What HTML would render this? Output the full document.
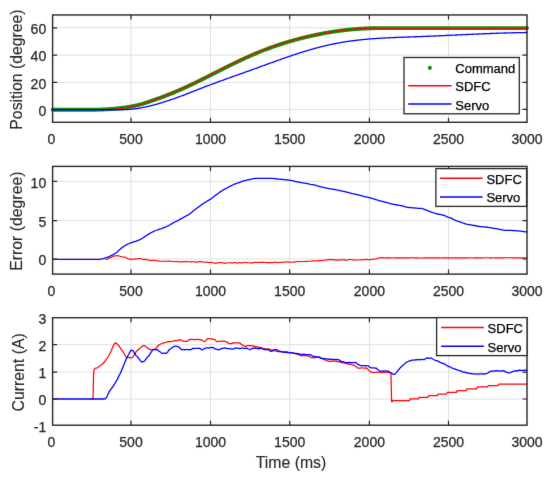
<!DOCTYPE html><html><head><meta charset="utf-8"><title>SDFC vs Servo</title><style>html,body{margin:0;padding:0;background:#fff;}svg{display:block;}</style></head><body>
<svg width="550" height="479" viewBox="0 0 550 479">
<defs><filter id="bl" filterUnits="userSpaceOnUse" x="0" y="0" width="550" height="479" color-interpolation-filters="sRGB"><feConvolveMatrix order="3" kernelMatrix="0.00524 0.06192 0.00524 0.06192 0.73137 0.06192 0.00524 0.06192 0.00524" edgeMode="duplicate" preserveAlpha="false"/></filter></defs>
<style>text{font-family:"Liberation Sans",Arial,sans-serif;} .tk{font-size:14px;fill:#262626;stroke:#262626;stroke-width:0.25px;} .lb{font-size:15.8px;fill:#262626;stroke:#262626;stroke-width:0.25px;} .lg{font-size:13px;fill:#000;stroke:#000;stroke-width:0.25px;}</style>
<style>.lb{stroke-width:0.12px;}</style>
<rect x="0" y="0" width="550" height="479" fill="#fff"/>
<g filter="url(#bl)">
<path d="M131.00,14.95V122.30M210.50,14.95V122.30M289.70,14.95V122.30M369.40,14.95V122.30M448.50,14.95V122.30M52.60,109.45H527.00M52.60,82.40H527.00M52.60,55.10H527.00M52.60,27.80H527.00" stroke="#dfdfdf" stroke-width="1" fill="none"/>
<path d="M131.00,166.40V274.10M210.50,166.40V274.10M289.70,166.40V274.10M369.40,166.40V274.10M448.50,166.40V274.10M52.60,259.00H527.00M52.60,220.60H527.00M52.60,181.40H527.00" stroke="#dfdfdf" stroke-width="1" fill="none"/>
<path d="M131.00,317.70V425.20M210.50,317.70V425.20M289.70,317.70V425.20M369.40,317.70V425.20M448.50,317.70V425.20M52.60,399.00H527.00M52.60,372.10H527.00M52.60,344.70H527.00" stroke="#dfdfdf" stroke-width="1" fill="none"/>
<path d="M131.00,122.30V117.80M131.00,14.95V19.45M210.50,122.30V117.80M210.50,14.95V19.45M289.70,122.30V117.80M289.70,14.95V19.45M369.40,122.30V117.80M369.40,14.95V19.45M448.50,122.30V117.80M448.50,14.95V19.45M52.60,109.45H57.10M527.00,109.45H522.50M52.60,82.40H57.10M527.00,82.40H522.50M52.60,55.10H57.10M527.00,55.10H522.50M52.60,27.80H57.10M527.00,27.80H522.50" stroke="#262626" stroke-width="1.2" fill="none"/>
<g transform="translate(0,0.3)">
<path d="M52.60,109.45 L53.23,109.45 L53.85,109.45 L54.48,109.45 L55.11,109.45 L55.74,109.45 L56.36,109.45 L56.99,109.45 L57.62,109.45 L58.24,109.45 L58.87,109.45 L59.50,109.45 L60.13,109.45 L60.75,109.45 L61.38,109.45 L62.01,109.45 L62.64,109.45 L63.26,109.45 L63.89,109.45 L64.52,109.45 L65.14,109.45 L65.77,109.45 L66.40,109.45 L67.03,109.45 L67.65,109.45 L68.28,109.45 L68.91,109.45 L69.53,109.45 L70.16,109.45 L70.79,109.45 L71.42,109.45 L72.04,109.45 L72.67,109.45 L73.30,109.45 L73.92,109.45 L74.55,109.45 L75.18,109.45 L75.81,109.45 L76.43,109.45 L77.06,109.45 L77.69,109.45 L78.32,109.45 L78.94,109.45 L79.57,109.45 L80.20,109.45 L80.82,109.45 L81.45,109.45 L82.08,109.45 L82.71,109.45 L83.33,109.45 L83.96,109.45 L84.59,109.45 L85.21,109.45 L85.84,109.45 L86.47,109.45 L87.10,109.45 L87.72,109.45 L88.35,109.45 L88.98,109.45 L89.60,109.45 L90.23,109.45 L90.86,109.45 L91.49,109.45 L92.11,109.45 L92.74,109.45 L93.37,109.44 L94.00,109.44 L94.62,109.43 L95.25,109.42 L95.88,109.40 L96.50,109.39 L97.13,109.38 L97.76,109.36 L98.39,109.35 L99.01,109.33 L99.64,109.31 L100.27,109.30 L100.89,109.28 L101.52,109.25 L102.15,109.23 L102.78,109.20 L103.40,109.17 L104.03,109.14 L104.66,109.11 L105.28,109.07 L105.91,109.04 L106.54,109.00 L107.17,108.96 L107.79,108.92 L108.42,108.88 L109.05,108.84 L109.68,108.80 L110.30,108.75 L110.93,108.71 L111.56,108.65 L112.18,108.60 L112.81,108.55 L113.44,108.49 L114.07,108.43 L114.69,108.37 L115.32,108.30 L115.95,108.24 L116.57,108.17 L117.20,108.11 L117.83,108.04 L118.46,107.97 L119.08,107.90 L119.71,107.83 L120.34,107.75 L120.96,107.68 L121.59,107.60 L122.22,107.53 L122.85,107.45 L123.47,107.36 L124.10,107.28 L124.73,107.19 L125.36,107.10 L125.98,107.01 L126.61,106.92 L127.24,106.82 L127.86,106.73 L128.49,106.63 L129.12,106.52 L129.75,106.42 L130.37,106.31 L131.00,106.20 L131.64,106.09 L132.27,105.97 L132.91,105.85 L133.54,105.72 L134.18,105.59 L134.82,105.46 L135.45,105.32 L136.09,105.17 L136.72,105.03 L137.36,104.88 L138.00,104.72 L138.63,104.57 L139.27,104.41 L139.90,104.24 L140.54,104.07 L141.18,103.90 L141.81,103.73 L142.45,103.55 L143.08,103.36 L143.72,103.16 L144.36,102.96 L144.99,102.76 L145.63,102.55 L146.26,102.34 L146.90,102.12 L147.54,101.91 L148.17,101.69 L148.81,101.48 L149.44,101.26 L150.08,101.05 L150.72,100.84 L151.35,100.62 L151.99,100.40 L152.62,100.19 L153.26,99.97 L153.90,99.75 L154.53,99.53 L155.17,99.30 L155.80,99.08 L156.44,98.86 L157.08,98.63 L157.71,98.41 L158.35,98.18 L158.98,97.95 L159.62,97.72 L160.26,97.49 L160.89,97.26 L161.53,97.02 L162.16,96.79 L162.80,96.55 L163.44,96.32 L164.07,96.08 L164.71,95.84 L165.34,95.60 L165.98,95.35 L166.62,95.11 L167.25,94.86 L167.89,94.61 L168.52,94.36 L169.16,94.11 L169.80,93.86 L170.43,93.60 L171.07,93.35 L171.70,93.09 L172.34,92.83 L172.98,92.56 L173.61,92.30 L174.25,92.04 L174.88,91.77 L175.52,91.50 L176.16,91.23 L176.79,90.96 L177.43,90.68 L178.06,90.41 L178.70,90.13 L179.34,89.85 L179.97,89.57 L180.61,89.29 L181.24,89.01 L181.88,88.72 L182.52,88.44 L183.15,88.15 L183.79,87.86 L184.42,87.57 L185.06,87.28 L185.70,86.99 L186.33,86.70 L186.97,86.40 L187.60,86.11 L188.24,85.81 L188.88,85.52 L189.51,85.22 L190.15,84.92 L190.78,84.62 L191.42,84.32 L192.06,84.02 L192.69,83.71 L193.33,83.41 L193.96,83.11 L194.60,82.80 L195.24,82.50 L195.87,82.19 L196.51,81.88 L197.14,81.57 L197.78,81.25 L198.42,80.94 L199.05,80.63 L199.69,80.31 L200.32,80.00 L200.96,79.69 L201.60,79.37 L202.23,79.05 L202.87,78.74 L203.50,78.42 L204.14,78.10 L204.78,77.79 L205.41,77.47 L206.05,77.15 L206.68,76.83 L207.32,76.51 L207.96,76.19 L208.59,75.87 L209.23,75.55 L209.86,75.23 L210.50,74.91 L211.13,74.59 L211.77,74.27 L212.40,73.95 L213.03,73.63 L213.67,73.31 L214.30,72.99 L214.94,72.67 L215.57,72.35 L216.20,72.03 L216.84,71.71 L217.47,71.39 L218.10,71.07 L218.74,70.75 L219.37,70.43 L220.00,70.11 L220.64,69.79 L221.27,69.47 L221.90,69.15 L222.54,68.83 L223.17,68.51 L223.81,68.19 L224.44,67.88 L225.07,67.56 L225.71,67.24 L226.34,66.93 L226.97,66.61 L227.61,66.29 L228.24,65.98 L228.87,65.67 L229.51,65.35 L230.14,65.04 L230.78,64.73 L231.41,64.41 L232.04,64.10 L232.68,63.79 L233.31,63.48 L233.94,63.17 L234.58,62.87 L235.21,62.56 L235.84,62.25 L236.48,61.95 L237.11,61.64 L237.74,61.34 L238.38,61.04 L239.01,60.73 L239.65,60.43 L240.28,60.13 L240.91,59.83 L241.55,59.54 L242.18,59.24 L242.81,58.94 L243.45,58.65 L244.08,58.36 L244.71,58.06 L245.35,57.77 L245.98,57.48 L246.62,57.20 L247.25,56.91 L247.88,56.62 L248.52,56.34 L249.15,56.06 L249.78,55.77 L250.42,55.49 L251.05,55.22 L251.68,54.94 L252.32,54.66 L252.95,54.39 L253.58,54.12 L254.22,53.84 L254.85,53.58 L255.49,53.31 L256.12,53.04 L256.75,52.78 L257.39,52.51 L258.02,52.25 L258.65,51.99 L259.29,51.73 L259.92,51.48 L260.55,51.22 L261.19,50.97 L261.82,50.72 L262.46,50.47 L263.09,50.22 L263.72,49.97 L264.36,49.73 L264.99,49.48 L265.62,49.24 L266.26,49.00 L266.89,48.76 L267.52,48.52 L268.16,48.29 L268.79,48.05 L269.42,47.82 L270.06,47.59 L270.69,47.36 L271.33,47.13 L271.96,46.90 L272.59,46.68 L273.23,46.45 L273.86,46.23 L274.49,46.01 L275.13,45.79 L275.76,45.57 L276.39,45.35 L277.03,45.14 L277.66,44.93 L278.30,44.71 L278.93,44.50 L279.56,44.29 L280.20,44.08 L280.83,43.88 L281.46,43.67 L282.10,43.47 L282.73,43.27 L283.36,43.07 L284.00,42.87 L284.63,42.67 L285.26,42.47 L285.90,42.28 L286.53,42.08 L287.17,41.89 L287.80,41.70 L288.43,41.51 L289.07,41.32 L289.70,41.14 L290.34,40.95 L290.98,40.77 L291.61,40.59 L292.25,40.40 L292.89,40.22 L293.53,40.05 L294.16,39.87 L294.80,39.69 L295.44,39.52 L296.08,39.34 L296.71,39.17 L297.35,39.00 L297.99,38.83 L298.63,38.66 L299.26,38.50 L299.90,38.33 L300.54,38.17 L301.18,38.01 L301.81,37.84 L302.45,37.68 L303.09,37.53 L303.73,37.37 L304.36,37.21 L305.00,37.06 L305.64,36.90 L306.28,36.75 L306.92,36.60 L307.55,36.45 L308.19,36.30 L308.83,36.15 L309.47,36.01 L310.10,35.86 L310.74,35.72 L311.38,35.57 L312.02,35.43 L312.65,35.29 L313.29,35.15 L313.93,35.01 L314.57,34.88 L315.20,34.74 L315.84,34.61 L316.48,34.48 L317.12,34.34 L317.75,34.21 L318.39,34.08 L319.03,33.95 L319.67,33.83 L320.30,33.70 L320.94,33.58 L321.58,33.45 L322.22,33.33 L322.86,33.21 L323.49,33.09 L324.13,32.97 L324.77,32.86 L325.41,32.74 L326.04,32.62 L326.68,32.51 L327.32,32.40 L327.96,32.29 L328.59,32.18 L329.23,32.07 L329.87,31.96 L330.51,31.86 L331.14,31.75 L331.78,31.65 L332.42,31.55 L333.06,31.45 L333.69,31.35 L334.33,31.25 L334.97,31.15 L335.61,31.06 L336.24,30.97 L336.88,30.87 L337.52,30.78 L338.16,30.69 L338.80,30.60 L339.43,30.52 L340.07,30.43 L340.71,30.35 L341.35,30.26 L341.98,30.18 L342.62,30.10 L343.26,30.02 L343.90,29.94 L344.53,29.87 L345.17,29.79 L345.81,29.72 L346.45,29.65 L347.08,29.58 L347.72,29.51 L348.36,29.44 L349.00,29.37 L349.63,29.31 L350.27,29.25 L350.91,29.18 L351.55,29.12 L352.18,29.06 L352.82,29.01 L353.46,28.95 L354.10,28.89 L354.74,28.84 L355.37,28.79 L356.01,28.74 L356.65,28.69 L357.29,28.64 L357.92,28.60 L358.56,28.55 L359.20,28.51 L359.84,28.47 L360.47,28.43 L361.11,28.39 L361.75,28.35 L362.39,28.32 L363.02,28.28 L363.66,28.25 L364.30,28.22 L364.94,28.19 L365.57,28.16 L366.21,28.13 L366.85,28.10 L367.49,28.08 L368.12,28.05 L368.76,28.03 L369.40,28.01 L370.03,27.99 L370.67,27.97 L371.30,27.95 L371.93,27.93 L372.56,27.91 L373.20,27.90 L373.83,27.88 L374.46,27.87 L375.10,27.85 L375.73,27.84 L376.36,27.83 L376.99,27.82 L377.63,27.80 L378.26,27.80 L378.89,27.80 L379.52,27.80 L380.16,27.80 L380.79,27.80 L381.42,27.80 L382.06,27.80 L382.69,27.80 L383.32,27.80 L383.95,27.80 L384.59,27.80 L385.22,27.80 L385.85,27.80 L386.49,27.80 L387.12,27.80 L387.75,27.80 L388.38,27.80 L389.02,27.80 L389.65,27.80 L390.28,27.80 L390.92,27.80 L391.55,27.80 L392.18,27.80 L392.81,27.80 L393.45,27.80 L394.08,27.80 L394.71,27.80 L395.34,27.80 L395.98,27.80 L396.61,27.80 L397.24,27.80 L397.88,27.80 L398.51,27.80 L399.14,27.80 L399.77,27.80 L400.41,27.80 L401.04,27.80 L401.67,27.80 L402.31,27.80 L402.94,27.80 L403.57,27.80 L404.20,27.80 L404.84,27.80 L405.47,27.80 L406.10,27.80 L406.74,27.80 L407.37,27.80 L408.00,27.80 L408.63,27.80 L409.27,27.80 L409.90,27.80 L410.53,27.80 L411.16,27.80 L411.80,27.80 L412.43,27.80 L413.06,27.80 L413.70,27.80 L414.33,27.80 L414.96,27.80 L415.59,27.80 L416.23,27.80 L416.86,27.80 L417.49,27.80 L418.13,27.80 L418.76,27.80 L419.39,27.80 L420.02,27.80 L420.66,27.80 L421.29,27.80 L421.92,27.80 L422.56,27.80 L423.19,27.80 L423.82,27.80 L424.45,27.80 L425.09,27.80 L425.72,27.80 L426.35,27.80 L426.98,27.80 L427.62,27.80 L428.25,27.80 L428.88,27.80 L429.52,27.80 L430.15,27.80 L430.78,27.80 L431.41,27.80 L432.05,27.80 L432.68,27.80 L433.31,27.80 L433.95,27.80 L434.58,27.80 L435.21,27.80 L435.84,27.80 L436.48,27.80 L437.11,27.80 L437.74,27.80 L438.38,27.80 L439.01,27.80 L439.64,27.80 L440.27,27.80 L440.91,27.80 L441.54,27.80 L442.17,27.80 L442.80,27.80 L443.44,27.80 L444.07,27.80 L444.70,27.80 L445.34,27.80 L445.97,27.80 L446.60,27.80 L447.23,27.80 L447.87,27.80 L448.50,27.80 L449.13,27.80 L449.76,27.80 L450.38,27.80 L451.01,27.80 L451.64,27.80 L452.27,27.80 L452.90,27.80 L453.52,27.80 L454.15,27.80 L454.78,27.80 L455.41,27.80 L456.04,27.80 L456.66,27.80 L457.29,27.80 L457.92,27.80 L458.55,27.80 L459.18,27.80 L459.80,27.80 L460.43,27.80 L461.06,27.80 L461.69,27.80 L462.32,27.80 L462.94,27.80 L463.57,27.80 L464.20,27.80 L464.83,27.80 L465.46,27.80 L466.08,27.80 L466.71,27.80 L467.34,27.80 L467.97,27.80 L468.60,27.80 L469.22,27.80 L469.85,27.80 L470.48,27.80 L471.11,27.80 L471.74,27.80 L472.36,27.80 L472.99,27.80 L473.62,27.80 L474.25,27.80 L474.88,27.80 L475.50,27.80 L476.13,27.80 L476.76,27.80 L477.39,27.80 L478.02,27.80 L478.64,27.80 L479.27,27.80 L479.90,27.80 L480.53,27.80 L481.16,27.80 L481.78,27.80 L482.41,27.80 L483.04,27.80 L483.67,27.80 L484.30,27.80 L484.92,27.80 L485.55,27.80 L486.18,27.80 L486.81,27.80 L487.44,27.80 L488.06,27.80 L488.69,27.80 L489.32,27.80 L489.95,27.80 L490.58,27.80 L491.20,27.80 L491.83,27.80 L492.46,27.80 L493.09,27.80 L493.72,27.80 L494.34,27.80 L494.97,27.80 L495.60,27.80 L496.23,27.80 L496.86,27.80 L497.48,27.80 L498.11,27.80 L498.74,27.80 L499.37,27.80 L500.00,27.80 L500.62,27.80 L501.25,27.80 L501.88,27.80 L502.51,27.80 L503.14,27.80 L503.76,27.80 L504.39,27.80 L505.02,27.80 L505.65,27.80 L506.28,27.80 L506.90,27.80 L507.53,27.80 L508.16,27.80 L508.79,27.80 L509.42,27.80 L510.04,27.80 L510.67,27.80 L511.30,27.80 L511.93,27.80 L512.56,27.80 L513.18,27.80 L513.81,27.80 L514.44,27.80 L515.07,27.80 L515.70,27.80 L516.32,27.80 L516.95,27.80 L517.58,27.80 L518.21,27.80 L518.84,27.80 L519.46,27.80 L520.09,27.80 L520.72,27.80 L521.35,27.80 L521.98,27.80 L522.60,27.80 L523.23,27.80 L523.86,27.80 L524.49,27.80 L525.12,27.80 L525.74,27.80 L526.37,27.80 L527.00,27.80" stroke="#0a960a" stroke-width="3.9" fill="none" stroke-linejoin="round" stroke-linecap="round" />
<path d="M99.64,109.31 L100.27,109.30 L100.89,109.28 L101.52,109.25 L102.15,109.23 L102.78,109.20 L103.40,109.17 L104.03,109.14 L104.66,109.11 L105.28,109.07 L105.91,109.04 L106.54,109.01 L107.17,109.01 L107.79,109.01 L108.42,109.03 L109.05,109.05 L109.68,109.06 L110.30,109.07 L110.93,109.06 L111.56,109.06 L112.18,109.05 L112.81,109.05 L113.44,109.03 L114.07,109.01 L114.69,108.97 L115.32,108.91 L115.95,108.85 L116.57,108.78 L117.20,108.70 L117.83,108.62 L118.46,108.54 L119.08,108.45 L119.71,108.37 L120.34,108.28 L120.96,108.18 L121.59,108.09 L122.22,107.99 L122.85,107.89 L123.47,107.78 L124.10,107.66 L124.73,107.54 L125.36,107.42 L125.98,107.30 L126.61,107.17 L127.24,107.04 L127.86,106.90 L128.49,106.76 L129.12,106.62 L129.75,106.48 L130.37,106.34 L131.00,106.21 L131.64,106.09 L132.27,105.97 L132.91,105.86 L133.54,105.74 L134.18,105.62 L134.82,105.50 L135.45,105.38 L136.09,105.25 L136.72,105.12 L137.36,104.98 L138.00,104.84 L138.63,104.69 L139.27,104.54 L139.90,104.38 L140.54,104.21 L141.18,104.03 L141.81,103.84 L142.45,103.65 L143.08,103.44 L143.72,103.22 L144.36,103.00 L144.99,102.78 L145.63,102.55 L146.26,102.31 L146.90,102.08 L147.54,101.85 L148.17,101.62 L148.81,101.40 L149.44,101.17 L150.08,100.94 L150.72,100.72 L151.35,100.49 L151.99,100.26 L152.62,100.03 L153.26,99.80 L153.90,99.57 L154.53,99.34 L155.17,99.10 L155.80,98.87 L156.44,98.63 L157.08,98.40 L157.71,98.16 L158.35,97.92 L158.98,97.69 L159.62,97.45 L160.26,97.21 L160.89,96.97 L161.53,96.73 L162.16,96.49 L162.80,96.24 L163.44,96.00 L164.07,95.76 L164.71,95.51 L165.34,95.26 L165.98,95.02 L166.62,94.77 L167.25,94.51 L167.89,94.26 L168.52,94.01 L169.16,93.75 L169.80,93.49 L170.43,93.23 L171.07,92.97 L171.70,92.71 L172.34,92.44 L172.98,92.18 L173.61,91.91 L174.25,91.64 L174.88,91.37 L175.52,91.10 L176.16,90.83 L176.79,90.55 L177.43,90.28 L178.06,90.00 L178.70,89.72 L179.34,89.44 L179.97,89.16 L180.61,88.88 L181.24,88.60 L181.88,88.32 L182.52,88.03 L183.15,87.74 L183.79,87.46 L184.42,87.17 L185.06,86.88 L185.70,86.58 L186.33,86.29 L186.97,86.00 L187.60,85.70 L188.24,85.41 L188.88,85.11 L189.51,84.81 L190.15,84.51 L190.78,84.21 L191.42,83.91 L192.06,83.61 L192.69,83.31 L193.33,83.00 L193.96,82.70 L194.60,82.40 L195.24,82.09 L195.87,81.78 L196.51,81.47 L197.14,81.16 L197.78,80.84 L198.42,80.53 L199.05,80.22 L199.69,79.90 L200.32,79.59 L200.96,79.27 L201.60,78.96 L202.23,78.64 L202.87,78.31 L203.50,77.99 L204.14,77.67 L204.78,77.34 L205.41,77.01 L206.05,76.68 L206.68,76.35 L207.32,76.02 L207.96,75.69 L208.59,75.36 L209.23,75.03 L209.86,74.70 L210.50,74.37 L211.13,74.04 L211.77,73.71 L212.40,73.38 L213.03,73.05 L213.67,72.72 L214.30,72.39 L214.94,72.07 L215.57,71.74 L216.20,71.42 L216.84,71.09 L217.47,70.77 L218.10,70.45 L218.74,70.13 L219.37,69.81 L220.00,69.49 L220.64,69.17 L221.27,68.85 L221.90,68.54 L222.54,68.22 L223.17,67.90 L223.81,67.58 L224.44,67.26 L225.07,66.95 L225.71,66.63 L226.34,66.31 L226.97,66.00 L227.61,65.68 L228.24,65.37 L228.87,65.06 L229.51,64.74 L230.14,64.43 L230.78,64.12 L231.41,63.81 L232.04,63.50 L232.68,63.19 L233.31,62.88 L233.94,62.57 L234.58,62.26 L235.21,61.95 L235.84,61.65 L236.48,61.34 L237.11,61.04 L237.74,60.74 L238.38,60.43 L239.01,60.13 L239.65,59.83 L240.28,59.53 L240.91,59.24 L241.55,58.94 L242.18,58.64 L242.81,58.35 L243.45,58.05 L244.08,57.76 L244.71,57.47 L245.35,57.18 L245.98,56.89 L246.62,56.60 L247.25,56.32 L247.88,56.03 L248.52,55.75 L249.15,55.47 L249.78,55.19 L250.42,54.91 L251.05,54.63 L251.68,54.35 L252.32,54.08 L252.95,53.81 L253.58,53.54 L254.22,53.27 L254.85,53.00 L255.49,52.73 L256.12,52.46 L256.75,52.20 L257.39,51.94 L258.02,51.68 L258.65,51.42 L259.29,51.16 L259.92,50.91 L260.55,50.65 L261.19,50.40 L261.82,50.15 L262.46,49.90 L263.09,49.66 L263.72,49.41 L264.36,49.17 L264.99,48.92 L265.62,48.68 L266.26,48.44 L266.89,48.21 L267.52,47.97 L268.16,47.74 L268.79,47.50 L269.42,47.27 L270.06,47.04 L270.69,46.82 L271.33,46.59 L271.96,46.36 L272.59,46.14 L273.23,45.92 L273.86,45.70 L274.49,45.48 L275.13,45.26 L275.76,45.05 L276.39,44.83 L277.03,44.62 L277.66,44.41 L278.30,44.20 L278.93,43.99 L279.56,43.79 L280.20,43.58 L280.83,43.38 L281.46,43.17 L282.10,42.97 L282.73,42.77 L283.36,42.58 L284.00,42.38 L284.63,42.19 L285.26,41.99 L285.90,41.80 L286.53,41.61 L287.17,41.42 L287.80,41.23 L288.43,41.05 L289.07,40.86 L289.70,40.68 L290.34,40.50 L290.98,40.31 L291.61,40.14 L292.25,39.96 L292.89,39.78 L293.53,39.61 L294.16,39.43 L294.80,39.26 L295.44,39.09 L296.08,38.92 L296.71,38.75 L297.35,38.58 L297.99,38.42 L298.63,38.25 L299.26,38.09 L299.90,37.93 L300.54,37.77 L301.18,37.61 L301.81,37.45 L302.45,37.30 L303.09,37.14 L303.73,36.99 L304.36,36.84 L305.00,36.69 L305.64,36.54 L306.28,36.39 L306.92,36.25 L307.55,36.10 L308.19,35.96 L308.83,35.82 L309.47,35.68 L310.10,35.54 L310.74,35.40 L311.38,35.27 L312.02,35.13 L312.65,35.00 L313.29,34.87 L313.93,34.74 L314.57,34.61 L315.20,34.48 L315.84,34.35 L316.48,34.23 L317.12,34.10 L317.75,33.98 L318.39,33.86 L319.03,33.73 L319.67,33.61 L320.30,33.50 L320.94,33.38 L321.58,33.26 L322.22,33.15 L322.86,33.03 L323.49,32.92 L324.13,32.81 L324.77,32.70 L325.41,32.59 L326.04,32.48 L326.68,32.37 L327.32,32.26 L327.96,32.16 L328.59,32.06 L329.23,31.95 L329.87,31.85 L330.51,31.75 L331.14,31.65 L331.78,31.55 L332.42,31.45 L333.06,31.36 L333.69,31.26 L334.33,31.17 L334.97,31.07 L335.61,30.98 L336.24,30.89 L336.88,30.80 L337.52,30.71 L338.16,30.62 L338.80,30.53 L339.43,30.45 L340.07,30.36 L340.71,30.28 L341.35,30.19 L341.98,30.11 L342.62,30.03 L343.26,29.95 L343.90,29.88 L344.53,29.80 L345.17,29.72 L345.81,29.65 L346.45,29.58 L347.08,29.51 L347.72,29.44 L348.36,29.37 L349.00,29.31 L349.63,29.24 L350.27,29.18 L350.91,29.11 L351.55,29.05 L352.18,28.99 L352.82,28.94 L353.46,28.88 L354.10,28.83 L354.74,28.77 L355.37,28.72 L356.01,28.67 L356.65,28.62 L357.29,28.57 L357.92,28.53 L358.56,28.48 L359.20,28.44 L359.84,28.40 L360.47,28.36 L361.11,28.32 L361.75,28.28 L362.39,28.25 L363.02,28.21 L363.66,28.18 L364.30,28.15 L364.94,28.12 L365.57,28.09 L366.21,28.06 L366.85,28.03 L367.49,28.01 L368.12,27.98 L368.76,27.96 L369.40,27.94 L370.03,27.93 L370.67,27.91 L371.30,27.91 L371.93,27.90 L372.56,27.90 L373.20,27.90 L373.83,27.90 L374.46,27.90 L375.10,27.91 L375.73,27.91 L376.36,27.92 L376.99,27.93 L377.63,27.95 L378.26,27.98 L378.89,28.01 L379.52,28.04 L380.16,28.06 L380.79,28.07 L381.42,28.07 L382.06,28.07 L382.69,28.07 L383.32,28.07 L383.95,28.07 L384.59,28.07 L385.22,28.07 L385.85,28.07 L386.49,28.07 L387.12,28.07 L387.75,28.07 L388.38,28.07 L389.02,28.07 L389.65,28.07 L390.28,28.07 L390.92,28.07 L391.55,28.07 L392.18,28.07 L392.81,28.07 L393.45,28.07 L394.08,28.07 L394.71,28.07 L395.34,28.07 L395.98,28.07 L396.61,28.07 L397.24,28.07 L397.88,28.07 L398.51,28.07 L399.14,28.07 L399.77,28.07 L400.41,28.07 L401.04,28.07 L401.67,28.07 L402.31,28.07 L402.94,28.07 L403.57,28.07 L404.20,28.07 L404.84,28.07 L405.47,28.07 L406.10,28.07 L406.74,28.07 L407.37,28.07 L408.00,28.07 L408.63,28.07 L409.27,28.07 L409.90,28.07 L410.53,28.07 L411.16,28.07 L411.80,28.07 L412.43,28.07 L413.06,28.07 L413.70,28.07 L414.33,28.07 L414.96,28.07 L415.59,28.07 L416.23,28.07 L416.86,28.07 L417.49,28.07 L418.13,28.07 L418.76,28.07 L419.39,28.07 L420.02,28.07 L420.66,28.07 L421.29,28.07 L421.92,28.07 L422.56,28.07 L423.19,28.07 L423.82,28.07 L424.45,28.07 L425.09,28.07 L425.72,28.07 L426.35,28.07 L426.98,28.07 L427.62,28.07 L428.25,28.07 L428.88,28.07 L429.52,28.07 L430.15,28.07 L430.78,28.07 L431.41,28.07 L432.05,28.07 L432.68,28.07 L433.31,28.07 L433.95,28.07 L434.58,28.07 L435.21,28.07 L435.84,28.07 L436.48,28.07 L437.11,28.07 L437.74,28.07 L438.38,28.07 L439.01,28.07 L439.64,28.07 L440.27,28.07 L440.91,28.07 L441.54,28.07 L442.17,28.07 L442.80,28.07 L443.44,28.07 L444.07,28.07 L444.70,28.07 L445.34,28.07 L445.97,28.07 L446.60,28.07 L447.23,28.07 L447.87,28.07 L448.50,28.07 L449.13,28.07 L449.76,28.07 L450.38,28.07 L451.01,28.07 L451.64,28.07 L452.27,28.07 L452.90,28.07 L453.52,28.07 L454.15,28.07 L454.78,28.07 L455.41,28.07 L456.04,28.07 L456.66,28.07 L457.29,28.07 L457.92,28.07 L458.55,28.07 L459.18,28.07 L459.80,28.07 L460.43,28.07 L461.06,28.07 L461.69,28.07 L462.32,28.07 L462.94,28.07 L463.57,28.07 L464.20,28.07 L464.83,28.07 L465.46,28.07 L466.08,28.07 L466.71,28.07 L467.34,28.07 L467.97,28.07 L468.60,28.07 L469.22,28.07 L469.85,28.07 L470.48,28.07 L471.11,28.07 L471.74,28.07 L472.36,28.07 L472.99,28.07 L473.62,28.07 L474.25,28.07 L474.88,28.07 L475.50,28.07 L476.13,28.07 L476.76,28.07 L477.39,28.07 L478.02,28.07 L478.64,28.07 L479.27,28.07 L479.90,28.07 L480.53,28.07 L481.16,28.07 L481.78,28.07 L482.41,28.07 L483.04,28.07 L483.67,28.07 L484.30,28.07 L484.92,28.07 L485.55,28.07 L486.18,28.07 L486.81,28.07 L487.44,28.07 L488.06,28.07 L488.69,28.07 L489.32,28.07 L489.95,28.07 L490.58,28.07 L491.20,28.07 L491.83,28.07 L492.46,28.07 L493.09,28.07 L493.72,28.07 L494.34,28.07 L494.97,28.07 L495.60,28.07 L496.23,28.07 L496.86,28.07 L497.48,28.07 L498.11,28.07 L498.74,28.07 L499.37,28.07 L500.00,28.07 L500.62,28.07 L501.25,28.07 L501.88,28.07 L502.51,28.07 L503.14,28.07 L503.76,28.07 L504.39,28.07 L505.02,28.07 L505.65,28.07 L506.28,28.07 L506.90,28.07 L507.53,28.07 L508.16,28.07 L508.79,28.07 L509.42,28.07 L510.04,28.07 L510.67,28.07 L511.30,28.07 L511.93,28.07 L512.56,28.07 L513.18,28.07 L513.81,28.07 L514.44,28.07 L515.07,28.07 L515.70,28.07 L516.32,28.07 L516.95,28.07 L517.58,28.07 L518.21,28.07 L518.84,28.07 L519.46,28.07 L520.09,28.07 L520.72,28.07 L521.35,28.07 L521.98,28.07 L522.60,28.07 L523.23,28.07 L523.86,28.07 L524.49,28.07 L525.12,28.07 L525.74,28.07 L526.37,28.07 L527.00,28.07" stroke="#e81000" stroke-width="1.3" fill="none" stroke-linejoin="round" stroke-linecap="round" />
<path d="M52.60,109.45 L53.23,109.45 L53.85,109.45 L54.48,109.45 L55.11,109.45 L55.74,109.45 L56.36,109.45 L56.99,109.45 L57.62,109.45 L58.24,109.45 L58.87,109.45 L59.50,109.45 L60.13,109.45 L60.75,109.45 L61.38,109.45 L62.01,109.45 L62.64,109.45 L63.26,109.45 L63.89,109.45 L64.52,109.45 L65.14,109.45 L65.77,109.45 L66.40,109.45 L67.03,109.45 L67.65,109.45 L68.28,109.45 L68.91,109.45 L69.53,109.45 L70.16,109.45 L70.79,109.45 L71.42,109.45 L72.04,109.45 L72.67,109.45 L73.30,109.45 L73.92,109.45 L74.55,109.45 L75.18,109.45 L75.81,109.45 L76.43,109.45 L77.06,109.45 L77.69,109.45 L78.32,109.45 L78.94,109.45 L79.57,109.45 L80.20,109.45 L80.82,109.45 L81.45,109.45 L82.08,109.45 L82.71,109.45 L83.33,109.45 L83.96,109.45 L84.59,109.45 L85.21,109.45 L85.84,109.45 L86.47,109.45 L87.10,109.45 L87.72,109.45 L88.35,109.45 L88.98,109.45 L89.60,109.45 L90.23,109.45 L90.86,109.45 L91.49,109.45 L92.11,109.45 L92.74,109.45 L93.37,109.45 L94.00,109.45 L94.62,109.45 L95.25,109.45 L95.88,109.45 L96.50,109.45 L97.13,109.45 L97.76,109.45 L98.39,109.45 L99.01,109.45 L99.64,109.45 L100.27,109.45 L100.89,109.45 L101.52,109.45 L102.15,109.45 L102.78,109.45 L103.40,109.45 L104.03,109.45 L104.66,109.45 L105.28,109.45 L105.91,109.45 L106.54,109.45 L107.17,109.45 L107.79,109.45 L108.42,109.45 L109.05,109.45 L109.68,109.45 L110.30,109.45 L110.93,109.45 L111.56,109.45 L112.18,109.45 L112.81,109.45 L113.44,109.45 L114.07,109.45 L114.69,109.45 L115.32,109.45 L115.95,109.45 L116.57,109.45 L117.20,109.45 L117.83,109.45 L118.46,109.45 L119.08,109.45 L119.71,109.45 L120.34,109.45 L120.96,109.45 L121.59,109.45 L122.22,109.45 L122.85,109.44 L123.47,109.41 L124.10,109.39 L124.73,109.36 L125.36,109.33 L125.98,109.30 L126.61,109.27 L127.24,109.23 L127.86,109.19 L128.49,109.14 L129.12,109.09 L129.75,109.04 L130.37,108.99 L131.00,108.93 L131.64,108.87 L132.27,108.80 L132.91,108.73 L133.54,108.66 L134.18,108.58 L134.82,108.50 L135.45,108.42 L136.09,108.33 L136.72,108.24 L137.36,108.15 L138.00,108.05 L138.63,107.95 L139.27,107.85 L139.90,107.74 L140.54,107.63 L141.18,107.52 L141.81,107.40 L142.45,107.28 L143.08,107.16 L143.72,107.04 L144.36,106.91 L144.99,106.78 L145.63,106.65 L146.26,106.51 L146.90,106.37 L147.54,106.23 L148.17,106.09 L148.81,105.94 L149.44,105.79 L150.08,105.64 L150.72,105.48 L151.35,105.32 L151.99,105.16 L152.62,105.00 L153.26,104.84 L153.90,104.67 L154.53,104.50 L155.17,104.33 L155.80,104.15 L156.44,103.98 L157.08,103.80 L157.71,103.62 L158.35,103.43 L158.98,103.25 L159.62,103.06 L160.26,102.87 L160.89,102.68 L161.53,102.49 L162.16,102.29 L162.80,102.09 L163.44,101.89 L164.07,101.69 L164.71,101.49 L165.34,101.29 L165.98,101.08 L166.62,100.87 L167.25,100.66 L167.89,100.45 L168.52,100.24 L169.16,100.02 L169.80,99.81 L170.43,99.59 L171.07,99.37 L171.70,99.15 L172.34,98.93 L172.98,98.71 L173.61,98.48 L174.25,98.26 L174.88,98.03 L175.52,97.80 L176.16,97.57 L176.79,97.34 L177.43,97.11 L178.06,96.88 L178.70,96.65 L179.34,96.41 L179.97,96.18 L180.61,95.94 L181.24,95.70 L181.88,95.47 L182.52,95.23 L183.15,94.99 L183.79,94.75 L184.42,94.51 L185.06,94.27 L185.70,94.02 L186.33,93.78 L186.97,93.54 L187.60,93.29 L188.24,93.05 L188.88,92.80 L189.51,92.56 L190.15,92.31 L190.78,92.07 L191.42,91.82 L192.06,91.57 L192.69,91.33 L193.33,91.08 L193.96,90.83 L194.60,90.58 L195.24,90.34 L195.87,90.09 L196.51,89.84 L197.14,89.59 L197.78,89.34 L198.42,89.10 L199.05,88.85 L199.69,88.60 L200.32,88.35 L200.96,88.11 L201.60,87.86 L202.23,87.61 L202.87,87.37 L203.50,87.12 L204.14,86.88 L204.78,86.63 L205.41,86.39 L206.05,86.14 L206.68,85.90 L207.32,85.66 L207.96,85.41 L208.59,85.17 L209.23,84.93 L209.86,84.69 L210.50,84.45 L211.13,84.21 L211.77,83.97 L212.40,83.74 L213.03,83.50 L213.67,83.26 L214.30,83.03 L214.94,82.79 L215.57,82.56 L216.20,82.32 L216.84,82.09 L217.47,81.85 L218.10,81.62 L218.74,81.39 L219.37,81.15 L220.00,80.92 L220.64,80.69 L221.27,80.46 L221.90,80.23 L222.54,79.99 L223.17,79.76 L223.81,79.53 L224.44,79.31 L225.07,79.08 L225.71,78.85 L226.34,78.62 L226.97,78.39 L227.61,78.16 L228.24,77.94 L228.87,77.71 L229.51,77.48 L230.14,77.26 L230.78,77.03 L231.41,76.80 L232.04,76.58 L232.68,76.35 L233.31,76.13 L233.94,75.90 L234.58,75.68 L235.21,75.45 L235.84,75.23 L236.48,75.00 L237.11,74.78 L237.74,74.55 L238.38,74.33 L239.01,74.10 L239.65,73.88 L240.28,73.65 L240.91,73.43 L241.55,73.20 L242.18,72.98 L242.81,72.75 L243.45,72.53 L244.08,72.30 L244.71,72.07 L245.35,71.85 L245.98,71.62 L246.62,71.40 L247.25,71.17 L247.88,70.95 L248.52,70.72 L249.15,70.49 L249.78,70.26 L250.42,70.04 L251.05,69.81 L251.68,69.58 L252.32,69.35 L252.95,69.12 L253.58,68.90 L254.22,68.67 L254.85,68.44 L255.49,68.21 L256.12,67.98 L256.75,67.75 L257.39,67.52 L258.02,67.29 L258.65,67.06 L259.29,66.83 L259.92,66.60 L260.55,66.37 L261.19,66.13 L261.82,65.90 L262.46,65.67 L263.09,65.44 L263.72,65.21 L264.36,64.98 L264.99,64.75 L265.62,64.52 L266.26,64.29 L266.89,64.06 L267.52,63.83 L268.16,63.60 L268.79,63.37 L269.42,63.14 L270.06,62.91 L270.69,62.68 L271.33,62.45 L271.96,62.22 L272.59,61.99 L273.23,61.76 L273.86,61.53 L274.49,61.30 L275.13,61.07 L275.76,60.85 L276.39,60.62 L277.03,60.39 L277.66,60.17 L278.30,59.94 L278.93,59.71 L279.56,59.49 L280.20,59.26 L280.83,59.04 L281.46,58.81 L282.10,58.59 L282.73,58.37 L283.36,58.14 L284.00,57.92 L284.63,57.70 L285.26,57.48 L285.90,57.26 L286.53,57.04 L287.17,56.82 L287.80,56.60 L288.43,56.38 L289.07,56.17 L289.70,55.95 L290.34,55.73 L290.98,55.52 L291.61,55.30 L292.25,55.09 L292.89,54.88 L293.53,54.66 L294.16,54.45 L294.80,54.24 L295.44,54.03 L296.08,53.82 L296.71,53.62 L297.35,53.41 L297.99,53.20 L298.63,53.00 L299.26,52.79 L299.90,52.59 L300.54,52.39 L301.18,52.18 L301.81,51.98 L302.45,51.78 L303.09,51.58 L303.73,51.39 L304.36,51.19 L305.00,51.00 L305.64,50.80 L306.28,50.61 L306.92,50.42 L307.55,50.22 L308.19,50.03 L308.83,49.85 L309.47,49.66 L310.10,49.47 L310.74,49.29 L311.38,49.10 L312.02,48.92 L312.65,48.74 L313.29,48.56 L313.93,48.38 L314.57,48.20 L315.20,48.03 L315.84,47.85 L316.48,47.68 L317.12,47.51 L317.75,47.34 L318.39,47.17 L319.03,47.00 L319.67,46.83 L320.30,46.67 L320.94,46.51 L321.58,46.34 L322.22,46.18 L322.86,46.03 L323.49,45.87 L324.13,45.71 L324.77,45.56 L325.41,45.41 L326.04,45.26 L326.68,45.11 L327.32,44.96 L327.96,44.81 L328.59,44.67 L329.23,44.53 L329.87,44.39 L330.51,44.25 L331.14,44.11 L331.78,43.97 L332.42,43.84 L333.06,43.71 L333.69,43.58 L334.33,43.45 L334.97,43.32 L335.61,43.20 L336.24,43.08 L336.88,42.95 L337.52,42.84 L338.16,42.72 L338.80,42.60 L339.43,42.49 L340.07,42.37 L340.71,42.26 L341.35,42.15 L341.98,42.05 L342.62,41.94 L343.26,41.83 L343.90,41.73 L344.53,41.63 L345.17,41.53 L345.81,41.43 L346.45,41.33 L347.08,41.24 L347.72,41.14 L348.36,41.05 L349.00,40.96 L349.63,40.87 L350.27,40.78 L350.91,40.70 L351.55,40.61 L352.18,40.53 L352.82,40.44 L353.46,40.36 L354.10,40.28 L354.74,40.20 L355.37,40.13 L356.01,40.05 L356.65,39.97 L357.29,39.90 L357.92,39.83 L358.56,39.76 L359.20,39.69 L359.84,39.62 L360.47,39.55 L361.11,39.48 L361.75,39.42 L362.39,39.35 L363.02,39.29 L363.66,39.23 L364.30,39.17 L364.94,39.11 L365.57,39.05 L366.21,38.99 L366.85,38.94 L367.49,38.88 L368.12,38.83 L368.76,38.77 L369.40,38.72 L370.03,38.67 L370.67,38.62 L371.30,38.57 L371.93,38.52 L372.56,38.47 L373.20,38.42 L373.83,38.37 L374.46,38.33 L375.10,38.28 L375.73,38.24 L376.36,38.20 L376.99,38.16 L377.63,38.11 L378.26,38.07 L378.89,38.03 L379.52,37.99 L380.16,37.95 L380.79,37.92 L381.42,37.88 L382.06,37.84 L382.69,37.81 L383.32,37.77 L383.95,37.74 L384.59,37.70 L385.22,37.67 L385.85,37.64 L386.49,37.60 L387.12,37.57 L387.75,37.54 L388.38,37.51 L389.02,37.48 L389.65,37.45 L390.28,37.42 L390.92,37.39 L391.55,37.36 L392.18,37.33 L392.81,37.31 L393.45,37.28 L394.08,37.25 L394.71,37.22 L395.34,37.20 L395.98,37.17 L396.61,37.15 L397.24,37.12 L397.88,37.10 L398.51,37.07 L399.14,37.05 L399.77,37.02 L400.41,37.00 L401.04,36.98 L401.67,36.95 L402.31,36.93 L402.94,36.90 L403.57,36.88 L404.20,36.86 L404.84,36.84 L405.47,36.81 L406.10,36.79 L406.74,36.77 L407.37,36.75 L408.00,36.72 L408.63,36.70 L409.27,36.68 L409.90,36.66 L410.53,36.63 L411.16,36.61 L411.80,36.59 L412.43,36.57 L413.06,36.54 L413.70,36.52 L414.33,36.50 L414.96,36.47 L415.59,36.45 L416.23,36.43 L416.86,36.40 L417.49,36.38 L418.13,36.36 L418.76,36.33 L419.39,36.31 L420.02,36.28 L420.66,36.26 L421.29,36.23 L421.92,36.21 L422.56,36.18 L423.19,36.16 L423.82,36.13 L424.45,36.11 L425.09,36.08 L425.72,36.06 L426.35,36.03 L426.98,36.00 L427.62,35.98 L428.25,35.95 L428.88,35.93 L429.52,35.90 L430.15,35.87 L430.78,35.85 L431.41,35.82 L432.05,35.79 L432.68,35.76 L433.31,35.74 L433.95,35.71 L434.58,35.68 L435.21,35.65 L435.84,35.63 L436.48,35.60 L437.11,35.57 L437.74,35.54 L438.38,35.52 L439.01,35.49 L439.64,35.46 L440.27,35.43 L440.91,35.40 L441.54,35.37 L442.17,35.35 L442.80,35.32 L443.44,35.29 L444.07,35.26 L444.70,35.23 L445.34,35.20 L445.97,35.17 L446.60,35.15 L447.23,35.12 L447.87,35.09 L448.50,35.06 L449.13,35.03 L449.76,35.00 L450.38,34.97 L451.01,34.94 L451.64,34.91 L452.27,34.88 L452.90,34.86 L453.52,34.83 L454.15,34.80 L454.78,34.77 L455.41,34.74 L456.04,34.71 L456.66,34.68 L457.29,34.65 L457.92,34.62 L458.55,34.59 L459.18,34.56 L459.80,34.54 L460.43,34.51 L461.06,34.48 L461.69,34.45 L462.32,34.42 L462.94,34.39 L463.57,34.36 L464.20,34.33 L464.83,34.30 L465.46,34.28 L466.08,34.25 L466.71,34.22 L467.34,34.19 L467.97,34.16 L468.60,34.13 L469.22,34.10 L469.85,34.08 L470.48,34.05 L471.11,34.02 L471.74,33.99 L472.36,33.96 L472.99,33.94 L473.62,33.91 L474.25,33.88 L474.88,33.85 L475.50,33.83 L476.13,33.80 L476.76,33.77 L477.39,33.74 L478.02,33.72 L478.64,33.69 L479.27,33.66 L479.90,33.64 L480.53,33.61 L481.16,33.58 L481.78,33.56 L482.41,33.53 L483.04,33.50 L483.67,33.48 L484.30,33.45 L484.92,33.43 L485.55,33.40 L486.18,33.38 L486.81,33.35 L487.44,33.32 L488.06,33.30 L488.69,33.28 L489.32,33.25 L489.95,33.23 L490.58,33.20 L491.20,33.18 L491.83,33.15 L492.46,33.13 L493.09,33.11 L493.72,33.08 L494.34,33.06 L494.97,33.04 L495.60,33.01 L496.23,32.99 L496.86,32.97 L497.48,32.95 L498.11,32.92 L498.74,32.90 L499.37,32.88 L500.00,32.86 L500.62,32.84 L501.25,32.82 L501.88,32.80 L502.51,32.78 L503.14,32.76 L503.76,32.74 L504.39,32.72 L505.02,32.70 L505.65,32.68 L506.28,32.66 L506.90,32.64 L507.53,32.62 L508.16,32.60 L508.79,32.58 L509.42,32.57 L510.04,32.55 L510.67,32.53 L511.30,32.52 L511.93,32.50 L512.56,32.48 L513.18,32.47 L513.81,32.45 L514.44,32.43 L515.07,32.42 L515.70,32.40 L516.32,32.39 L516.95,32.37 L517.58,32.36 L518.21,32.35 L518.84,32.33 L519.46,32.32 L520.09,32.31 L520.72,32.29 L521.35,32.28 L521.98,32.27 L522.60,32.26 L523.23,32.25 L523.86,32.24 L524.49,32.23 L525.12,32.22 L525.74,32.21 L526.37,32.20 L527.00,32.19" stroke="#0000ff" stroke-width="1.3" fill="none" stroke-linejoin="round" stroke-linecap="round" />
</g>
<g transform="translate(0,0.4)">
<path d="M105.91,259.00 L106.54,258.93 L107.17,258.75 L107.79,258.49 L108.42,258.17 L109.05,257.83 L109.68,257.50 L110.30,257.20 L110.93,256.96 L111.56,256.70 L112.18,256.43 L112.81,256.20 L113.44,255.92 L114.07,255.68 L114.69,255.51 L115.32,255.42 L115.95,255.35 L116.57,255.30 L117.20,255.27 L117.83,255.25 L118.46,255.45 L119.08,255.66 L119.71,255.88 L120.34,256.10 L120.96,256.20 L121.59,256.29 L122.22,256.41 L122.85,256.55 L123.47,256.64 L124.10,256.74 L124.73,256.85 L125.36,256.96 L125.98,257.25 L126.61,257.54 L127.24,257.86 L127.86,258.20 L128.49,258.41 L129.12,258.61 L129.75,258.78 L130.37,258.91 L131.00,258.96 L131.64,258.93 L132.27,258.85 L132.91,258.75 L133.54,258.71 L134.18,258.66 L134.82,258.60 L135.45,258.53 L136.09,258.47 L136.72,258.41 L137.36,258.36 L138.00,258.31 L138.63,258.23 L139.27,258.16 L139.90,258.11 L140.54,258.09 L141.18,258.34 L141.81,258.60 L142.45,258.89 L143.08,259.19 L143.72,259.08 L144.36,258.98 L144.99,258.88 L145.63,258.77 L146.26,259.00 L146.90,259.22 L147.54,259.43 L148.17,259.62 L148.81,259.74 L149.44,259.85 L150.08,259.96 L150.72,260.07 L151.35,260.03 L151.99,259.98 L152.62,259.94 L153.26,259.89 L153.90,259.93 L154.53,259.97 L155.17,260.01 L155.80,260.05 L156.44,260.17 L157.08,260.30 L157.71,260.42 L158.35,260.54 L158.98,260.63 L159.62,260.72 L160.26,260.80 L160.89,260.88 L161.53,260.86 L162.16,260.84 L162.80,260.82 L163.44,260.79 L164.07,260.83 L164.71,260.86 L165.34,260.90 L165.98,260.93 L166.62,260.88 L167.25,260.82 L167.89,260.77 L168.52,260.71 L169.16,260.78 L169.80,260.84 L170.43,260.90 L171.07,260.97 L171.70,261.02 L172.34,261.08 L172.98,261.13 L173.61,261.18 L174.25,261.15 L174.88,261.11 L175.52,261.07 L176.16,261.03 L176.79,261.11 L177.43,261.19 L178.06,261.27 L178.70,261.35 L179.34,261.39 L179.97,261.43 L180.61,261.48 L181.24,261.52 L181.88,261.43 L182.52,261.34 L183.15,261.26 L183.79,261.17 L184.42,261.17 L185.06,261.17 L185.70,261.17 L186.33,261.17 L186.97,261.22 L187.60,261.26 L188.24,261.31 L188.88,261.35 L189.51,261.39 L190.15,261.42 L190.78,261.45 L191.42,261.48 L192.06,261.43 L192.69,261.37 L193.33,261.31 L193.96,261.25 L194.60,261.41 L195.24,261.56 L195.87,261.72 L196.51,261.88 L197.14,261.70 L197.78,261.51 L198.42,261.33 L199.05,261.14 L199.69,261.16 L200.32,261.17 L200.96,261.19 L201.60,261.22 L202.23,261.37 L202.87,261.52 L203.50,261.68 L204.14,261.85 L204.78,261.80 L205.41,261.75 L206.05,261.71 L206.68,261.67 L207.32,261.79 L207.96,261.91 L208.59,262.04 L209.23,262.16 L209.86,262.12 L210.50,262.08 L211.13,262.04 L211.77,262.00 L212.40,262.22 L213.03,262.43 L213.67,262.63 L214.30,262.83 L214.94,262.80 L215.57,262.76 L216.20,262.72 L216.84,262.66 L217.47,262.57 L218.10,262.48 L218.74,262.39 L219.37,262.29 L220.00,262.27 L220.64,262.24 L221.27,262.21 L221.90,262.19 L222.54,262.38 L223.17,262.57 L223.81,262.75 L224.44,262.94 L225.07,262.85 L225.71,262.75 L226.34,262.65 L226.97,262.55 L227.61,262.50 L228.24,262.45 L228.87,262.40 L229.51,262.35 L230.14,262.41 L230.78,262.46 L231.41,262.51 L232.04,262.56 L232.68,262.43 L233.31,262.30 L233.94,262.17 L234.58,262.04 L235.21,262.20 L235.84,262.35 L236.48,262.51 L237.11,262.67 L237.74,262.57 L238.38,262.48 L239.01,262.39 L239.65,262.29 L240.28,262.37 L240.91,262.45 L241.55,262.52 L242.18,262.60 L242.81,262.45 L243.45,262.31 L244.08,262.16 L244.71,262.02 L245.35,262.09 L245.98,262.17 L246.62,262.25 L247.25,262.33 L247.88,262.34 L248.52,262.36 L249.15,262.37 L249.78,262.39 L250.42,262.46 L251.05,262.53 L251.68,262.60 L252.32,262.67 L252.95,262.47 L253.58,262.27 L254.22,262.07 L254.85,261.87 L255.49,261.92 L256.12,261.96 L256.75,262.01 L257.39,262.06 L258.02,262.05 L258.65,262.05 L259.29,262.04 L259.92,262.04 L260.55,262.01 L261.19,261.98 L261.82,261.95 L262.46,261.92 L263.09,261.96 L263.72,261.99 L264.36,262.03 L264.99,262.07 L265.62,262.11 L266.26,262.16 L266.89,262.21 L267.52,262.25 L268.16,262.25 L268.79,262.25 L269.42,262.25 L270.06,262.25 L270.69,262.23 L271.33,262.22 L271.96,262.21 L272.59,262.20 L273.23,262.06 L273.86,261.92 L274.49,261.78 L275.13,261.64 L275.76,261.79 L276.39,261.94 L277.03,262.09 L277.66,262.24 L278.30,262.17 L278.93,262.11 L279.56,262.04 L280.20,261.98 L280.83,261.95 L281.46,261.91 L282.10,261.88 L282.73,261.85 L283.36,261.80 L284.00,261.75 L284.63,261.71 L285.26,261.66 L285.90,261.62 L286.53,261.58 L287.17,261.54 L287.80,261.51 L288.43,261.59 L289.07,261.68 L289.70,261.77 L290.34,261.86 L290.98,261.86 L291.61,261.87 L292.25,261.88 L292.89,261.89 L293.53,261.77 L294.16,261.66 L294.80,261.54 L295.44,261.42 L296.08,261.33 L296.71,261.24 L297.35,261.15 L297.99,261.06 L298.63,261.07 L299.26,261.08 L299.90,261.08 L300.54,261.09 L301.18,261.10 L301.81,261.10 L302.45,261.11 L303.09,261.11 L303.73,261.11 L304.36,261.12 L305.00,261.12 L305.64,261.12 L306.28,261.05 L306.92,260.98 L307.55,260.91 L308.19,260.84 L308.83,260.83 L309.47,260.83 L310.10,260.82 L310.74,260.81 L311.38,260.71 L312.02,260.61 L312.65,260.51 L313.29,260.41 L313.93,260.47 L314.57,260.52 L315.20,260.57 L315.84,260.62 L316.48,260.53 L317.12,260.44 L317.75,260.34 L318.39,260.25 L319.03,260.22 L319.67,260.20 L320.30,260.17 L320.94,260.14 L321.58,260.07 L322.22,259.99 L322.86,259.92 L323.49,259.84 L324.13,259.82 L324.77,259.80 L325.41,259.79 L326.04,259.77 L326.68,259.60 L327.32,259.44 L327.96,259.27 L328.59,259.11 L329.23,259.14 L329.87,259.17 L330.51,259.20 L331.14,259.24 L331.78,259.21 L332.42,259.19 L333.06,259.17 L333.69,259.15 L334.33,259.33 L334.97,259.52 L335.61,259.71 L336.24,259.90 L336.88,259.79 L337.52,259.68 L338.16,259.57 L338.80,259.47 L339.43,259.48 L340.07,259.49 L340.71,259.51 L341.35,259.52 L341.98,259.46 L342.62,259.39 L343.26,259.33 L343.90,259.26 L344.53,259.42 L345.17,259.59 L345.81,259.75 L346.45,259.91 L347.08,259.71 L347.72,259.51 L348.36,259.31 L349.00,259.11 L349.63,259.12 L350.27,259.13 L350.91,259.13 L351.55,259.14 L352.18,259.27 L352.82,259.41 L353.46,259.55 L354.10,259.68 L354.74,259.67 L355.37,259.65 L356.01,259.63 L356.65,259.61 L357.29,259.60 L357.92,259.59 L358.56,259.58 L359.20,259.57 L359.84,259.52 L360.47,259.47 L361.11,259.42 L361.75,259.37 L362.39,259.34 L363.02,259.31 L363.66,259.27 L364.30,259.24 L364.94,259.16 L365.57,259.07 L366.21,258.99 L366.85,258.91 L367.49,259.04 L368.12,259.17 L368.76,259.30 L369.40,259.42 L370.03,259.33 L370.67,259.23 L371.30,259.12 L371.93,258.99 L372.56,258.95 L373.20,258.89 L373.83,258.83 L374.46,258.77 L375.10,258.58 L375.73,258.40 L376.36,258.19 L376.99,257.94 L377.63,257.82 L378.26,257.70 L378.89,257.58 L379.52,257.48 L380.16,257.33 L380.79,257.23 L381.42,257.18 L382.06,257.15 L382.69,257.40 L383.32,257.45 L383.95,257.50 L384.59,257.55 L385.22,257.53 L385.85,257.52 L386.49,257.50 L387.12,257.48 L387.75,257.49 L388.38,257.50 L389.02,257.52 L389.65,257.53 L390.28,257.48 L390.92,257.44 L391.55,257.39 L392.18,257.34 L392.81,257.36 L393.45,257.38 L394.08,257.39 L394.71,257.41 L395.34,257.43 L395.98,257.45 L396.61,257.47 L397.24,257.49 L397.88,257.49 L398.51,257.49 L399.14,257.50 L399.77,257.50 L400.41,257.48 L401.04,257.46 L401.67,257.44 L402.31,257.42 L402.94,257.45 L403.57,257.47 L404.20,257.50 L404.84,257.52 L405.47,257.53 L406.10,257.53 L406.74,257.53 L407.37,257.54 L408.00,257.51 L408.63,257.48 L409.27,257.45 L409.90,257.43 L410.53,257.39 L411.16,257.35 L411.80,257.31 L412.43,257.27 L413.06,257.32 L413.70,257.37 L414.33,257.43 L414.96,257.48 L415.59,257.49 L416.23,257.50 L416.86,257.50 L417.49,257.51 L418.13,257.52 L418.76,257.53 L419.39,257.55 L420.02,257.56 L420.66,257.56 L421.29,257.57 L421.92,257.57 L422.56,257.57 L423.19,257.53 L423.82,257.50 L424.45,257.46 L425.09,257.42 L425.72,257.42 L426.35,257.41 L426.98,257.40 L427.62,257.40 L428.25,257.41 L428.88,257.43 L429.52,257.45 L430.15,257.46 L430.78,257.46 L431.41,257.45 L432.05,257.44 L432.68,257.44 L433.31,257.44 L433.95,257.45 L434.58,257.45 L435.21,257.45 L435.84,257.45 L436.48,257.45 L437.11,257.45 L437.74,257.45 L438.38,257.49 L439.01,257.52 L439.64,257.55 L440.27,257.59 L440.91,257.57 L441.54,257.54 L442.17,257.52 L442.80,257.50 L443.44,257.49 L444.07,257.48 L444.70,257.47 L445.34,257.46 L445.97,257.47 L446.60,257.49 L447.23,257.51 L447.87,257.53 L448.50,257.52 L449.13,257.51 L449.76,257.51 L450.38,257.50 L451.01,257.51 L451.64,257.52 L452.27,257.52 L452.90,257.53 L453.52,257.52 L454.15,257.51 L454.78,257.50 L455.41,257.49 L456.04,257.47 L456.66,257.44 L457.29,257.42 L457.92,257.40 L458.55,257.42 L459.18,257.45 L459.80,257.47 L460.43,257.50 L461.06,257.49 L461.69,257.49 L462.32,257.48 L462.94,257.48 L463.57,257.46 L464.20,257.44 L464.83,257.42 L465.46,257.40 L466.08,257.40 L466.71,257.41 L467.34,257.41 L467.97,257.41 L468.60,257.39 L469.22,257.37 L469.85,257.35 L470.48,257.33 L471.11,257.40 L471.74,257.48 L472.36,257.56 L472.99,257.63 L473.62,257.57 L474.25,257.51 L474.88,257.45 L475.50,257.39 L476.13,257.42 L476.76,257.45 L477.39,257.48 L478.02,257.50 L478.64,257.49 L479.27,257.48 L479.90,257.47 L480.53,257.45 L481.16,257.44 L481.78,257.42 L482.41,257.41 L483.04,257.40 L483.67,257.39 L484.30,257.39 L484.92,257.38 L485.55,257.38 L486.18,257.38 L486.81,257.38 L487.44,257.38 L488.06,257.38 L488.69,257.40 L489.32,257.42 L489.95,257.43 L490.58,257.45 L491.20,257.42 L491.83,257.39 L492.46,257.36 L493.09,257.33 L493.72,257.37 L494.34,257.41 L494.97,257.45 L495.60,257.49 L496.23,257.48 L496.86,257.48 L497.48,257.48 L498.11,257.48 L498.74,257.46 L499.37,257.44 L500.00,257.42 L500.62,257.40 L501.25,257.43 L501.88,257.45 L502.51,257.48 L503.14,257.51 L503.76,257.45 L504.39,257.40 L505.02,257.34 L505.65,257.29 L506.28,257.31 L506.90,257.34 L507.53,257.36 L508.16,257.38 L508.79,257.36 L509.42,257.34 L510.04,257.31 L510.67,257.29 L511.30,257.33 L511.93,257.38 L512.56,257.42 L513.18,257.47 L513.81,257.47 L514.44,257.48 L515.07,257.49 L515.70,257.49 L516.32,257.48 L516.95,257.47 L517.58,257.46 L518.21,257.45 L518.84,257.44 L519.46,257.43 L520.09,257.42 L520.72,257.40 L521.35,257.43 L521.98,257.46 L522.60,257.48 L523.23,257.51 L523.86,257.49 L524.49,257.47 L525.12,257.45 L525.74,257.43 L526.37,257.44 L527.00,257.45" stroke="#ff0000" stroke-width="1.15" fill="none" stroke-linejoin="round" stroke-linecap="round" />
<path d="M52.60,259.00 L53.23,259.00 L53.85,259.00 L54.48,259.00 L55.11,259.00 L55.74,259.00 L56.36,259.00 L56.99,259.00 L57.62,259.00 L58.24,259.00 L58.87,259.00 L59.50,259.00 L60.13,259.00 L60.75,259.00 L61.38,259.00 L62.01,259.00 L62.64,259.00 L63.26,259.00 L63.89,259.00 L64.52,259.00 L65.14,259.00 L65.77,259.00 L66.40,259.00 L67.03,259.00 L67.65,259.00 L68.28,259.00 L68.91,259.00 L69.53,259.00 L70.16,259.00 L70.79,259.00 L71.42,259.00 L72.04,259.00 L72.67,259.00 L73.30,259.00 L73.92,259.00 L74.55,259.00 L75.18,259.00 L75.81,259.00 L76.43,259.00 L77.06,259.00 L77.69,259.00 L78.32,259.00 L78.94,259.00 L79.57,259.00 L80.20,259.00 L80.82,259.00 L81.45,259.00 L82.08,259.00 L82.71,259.00 L83.33,259.00 L83.96,259.00 L84.59,259.00 L85.21,259.00 L85.84,259.00 L86.47,259.00 L87.10,259.00 L87.72,259.00 L88.35,259.00 L88.98,259.00 L89.60,259.00 L90.23,259.00 L90.86,259.00 L91.49,259.00 L92.11,259.00 L92.74,259.00 L93.37,259.00 L94.00,259.00 L94.62,259.00 L95.25,259.00 L95.88,259.00 L96.50,259.00 L97.13,258.99 L97.76,258.98 L98.39,258.96 L99.01,258.93 L99.64,258.88 L100.27,258.81 L100.89,258.73 L101.52,258.62 L102.15,258.48 L102.78,258.33 L103.40,258.16 L104.03,257.97 L104.66,257.77 L105.28,257.56 L105.91,257.34 L106.54,257.11 L107.17,256.88 L107.79,256.64 L108.42,256.40 L109.05,256.14 L109.68,255.88 L110.30,255.60 L110.93,255.30 L111.56,255.00 L112.18,254.68 L112.81,254.34 L113.44,253.99 L114.07,253.63 L114.69,253.24 L115.32,252.83 L115.95,252.54 L116.57,252.12 L117.20,251.59 L117.83,251.02 L118.46,250.44 L119.08,249.84 L119.71,249.24 L120.34,248.64 L120.96,248.11 L121.59,247.60 L122.22,247.12 L122.85,246.66 L123.47,246.23 L124.10,245.83 L124.73,245.42 L125.36,245.03 L125.98,244.66 L126.61,244.31 L127.24,243.97 L127.86,243.64 L128.49,243.37 L129.12,243.11 L129.75,242.86 L130.37,242.62 L131.00,242.39 L131.64,242.16 L132.27,241.94 L132.91,241.73 L133.54,241.53 L134.18,241.33 L134.82,241.14 L135.45,240.96 L136.09,240.73 L136.72,240.50 L137.36,240.26 L138.00,240.01 L138.63,239.74 L139.27,239.45 L139.90,239.18 L140.54,238.87 L141.18,238.55 L141.81,238.19 L142.45,237.81 L143.08,237.41 L143.72,236.97 L144.36,236.52 L144.99,236.07 L145.63,235.63 L146.26,235.19 L146.90,234.76 L147.54,234.35 L148.17,233.95 L148.81,233.57 L149.44,233.20 L150.08,232.84 L150.72,232.49 L151.35,232.15 L151.99,231.83 L152.62,231.51 L153.26,231.20 L153.90,230.91 L154.53,230.62 L155.17,230.35 L155.80,230.09 L156.44,229.84 L157.08,229.60 L157.71,229.38 L158.35,229.17 L158.98,228.98 L159.62,228.79 L160.26,228.60 L160.89,228.42 L161.53,228.23 L162.16,228.03 L162.80,227.80 L163.44,227.56 L164.07,227.30 L164.71,227.02 L165.34,226.73 L165.98,226.41 L166.62,226.13 L167.25,225.83 L167.89,225.52 L168.52,225.21 L169.16,224.88 L169.80,224.56 L170.43,224.16 L171.07,223.76 L171.70,223.37 L172.34,222.98 L172.98,222.61 L173.61,222.24 L174.25,221.93 L174.88,221.63 L175.52,221.34 L176.16,221.05 L176.79,220.76 L177.43,220.48 L178.06,220.12 L178.70,219.76 L179.34,219.40 L179.97,219.03 L180.61,218.66 L181.24,218.28 L181.88,217.94 L182.52,217.60 L183.15,217.24 L183.79,216.87 L184.42,216.50 L185.06,216.12 L185.70,215.79 L186.33,215.46 L186.97,215.11 L187.60,214.77 L188.24,214.41 L188.88,214.05 L189.51,213.57 L190.15,213.09 L190.78,212.60 L191.42,212.11 L192.06,211.60 L192.69,211.09 L193.33,210.61 L193.96,210.13 L194.60,209.64 L195.24,209.14 L195.87,208.64 L196.51,208.14 L197.14,207.65 L197.78,207.17 L198.42,206.70 L199.05,206.24 L199.69,205.78 L200.32,205.34 L200.96,204.86 L201.60,204.39 L202.23,203.93 L202.87,203.48 L203.50,203.03 L204.14,202.59 L204.78,202.20 L205.41,201.81 L206.05,201.43 L206.68,201.04 L207.32,200.66 L207.96,200.27 L208.59,199.88 L209.23,199.49 L209.86,199.09 L210.50,198.69 L211.13,198.28 L211.77,197.86 L212.40,197.38 L213.03,196.90 L213.67,196.40 L214.30,195.91 L214.94,195.41 L215.57,194.91 L216.20,194.44 L216.84,193.97 L217.47,193.51 L218.10,193.04 L218.74,192.59 L219.37,192.14 L220.00,191.70 L220.64,191.26 L221.27,190.84 L221.90,190.42 L222.54,190.02 L223.17,189.63 L223.81,189.27 L224.44,188.93 L225.07,188.59 L225.71,188.26 L226.34,187.94 L226.97,187.62 L227.61,187.24 L228.24,186.88 L228.87,186.51 L229.51,186.16 L230.14,185.81 L230.78,185.47 L231.41,185.16 L232.04,184.87 L232.68,184.58 L233.31,184.29 L233.94,184.01 L234.58,183.74 L235.21,183.51 L235.84,183.29 L236.48,183.06 L237.11,182.85 L237.74,182.64 L238.38,182.43 L239.01,182.18 L239.65,181.94 L240.28,181.71 L240.91,181.48 L241.55,181.25 L242.18,181.04 L242.81,180.83 L243.45,180.63 L244.08,180.43 L244.71,180.24 L245.35,180.06 L245.98,179.88 L246.62,179.73 L247.25,179.59 L247.88,179.45 L248.52,179.32 L249.15,179.20 L249.78,179.08 L250.42,178.92 L251.05,178.76 L251.68,178.61 L252.32,178.46 L252.95,178.32 L253.58,178.19 L254.22,178.13 L254.85,178.08 L255.49,178.03 L256.12,177.99 L256.75,177.96 L257.39,177.93 L258.02,177.91 L258.65,177.90 L259.29,177.90 L259.92,177.90 L260.55,177.92 L261.19,177.94 L261.82,177.94 L262.46,177.95 L263.09,177.95 L263.72,177.96 L264.36,177.98 L264.99,177.99 L265.62,178.00 L266.26,178.01 L266.89,178.03 L267.52,178.04 L268.16,178.05 L268.79,178.07 L269.42,178.05 L270.06,178.04 L270.69,178.03 L271.33,178.01 L271.96,178.00 L272.59,177.99 L273.23,178.08 L273.86,178.16 L274.49,178.25 L275.13,178.34 L275.76,178.43 L276.39,178.53 L277.03,178.57 L277.66,178.61 L278.30,178.66 L278.93,178.71 L279.56,178.76 L280.20,178.81 L280.83,178.86 L281.46,178.92 L282.10,178.97 L282.73,179.03 L283.36,179.09 L284.00,179.16 L284.63,179.24 L285.26,179.32 L285.90,179.41 L286.53,179.50 L287.17,179.59 L287.80,179.68 L288.43,179.72 L289.07,179.77 L289.70,179.82 L290.34,179.88 L290.98,179.94 L291.61,180.01 L292.25,180.18 L292.89,180.36 L293.53,180.54 L294.16,180.73 L294.80,180.92 L295.44,181.11 L296.08,181.22 L296.71,181.34 L297.35,181.45 L297.99,181.56 L298.63,181.66 L299.26,181.77 L299.90,181.90 L300.54,182.04 L301.18,182.16 L301.81,182.29 L302.45,182.42 L303.09,182.54 L303.73,182.64 L304.36,182.74 L305.00,182.83 L305.64,182.93 L306.28,183.03 L306.92,183.13 L307.55,183.28 L308.19,183.42 L308.83,183.57 L309.47,183.73 L310.10,183.88 L310.74,184.04 L311.38,184.12 L312.02,184.19 L312.65,184.28 L313.29,184.37 L313.93,184.46 L314.57,184.56 L315.20,184.76 L315.84,184.96 L316.48,185.16 L317.12,185.37 L317.75,185.57 L318.39,185.78 L319.03,185.94 L319.67,186.10 L320.30,186.25 L320.94,186.40 L321.58,186.55 L322.22,186.69 L322.86,186.86 L323.49,187.02 L324.13,187.17 L324.77,187.33 L325.41,187.48 L326.04,187.63 L326.68,187.76 L327.32,187.88 L327.96,188.01 L328.59,188.13 L329.23,188.25 L329.87,188.38 L330.51,188.48 L331.14,188.58 L331.78,188.68 L332.42,188.78 L333.06,188.88 L333.69,188.98 L334.33,189.09 L334.97,189.21 L335.61,189.33 L336.24,189.45 L336.88,189.57 L337.52,189.70 L338.16,189.83 L338.80,189.97 L339.43,190.11 L340.07,190.26 L340.71,190.40 L341.35,190.54 L341.98,190.68 L342.62,190.81 L343.26,190.94 L343.90,191.08 L344.53,191.21 L345.17,191.35 L345.81,191.50 L346.45,191.66 L347.08,191.82 L347.72,191.97 L348.36,192.13 L349.00,192.29 L349.63,192.45 L350.27,192.61 L350.91,192.78 L351.55,192.94 L352.18,193.11 L352.82,193.27 L353.46,193.41 L354.10,193.55 L354.74,193.68 L355.37,193.82 L356.01,193.96 L356.65,194.10 L357.29,194.26 L357.92,194.42 L358.56,194.58 L359.20,194.75 L359.84,194.91 L360.47,195.07 L361.11,195.24 L361.75,195.42 L362.39,195.59 L363.02,195.76 L363.66,195.94 L364.30,196.11 L364.94,196.26 L365.57,196.40 L366.21,196.55 L366.85,196.69 L367.49,196.84 L368.12,196.99 L368.76,197.14 L369.40,197.30 L370.03,197.46 L370.67,197.62 L371.30,197.78 L371.93,197.94 L372.56,198.14 L373.20,198.34 L373.83,198.54 L374.46,198.74 L375.10,198.95 L375.73,199.15 L376.36,199.35 L376.99,199.55 L377.63,199.74 L378.26,199.94 L378.89,200.14 L379.52,200.34 L380.16,200.50 L380.79,200.67 L381.42,200.83 L382.06,200.99 L382.69,201.15 L383.32,201.31 L383.95,201.46 L384.59,201.62 L385.22,201.77 L385.85,201.91 L386.49,202.06 L387.12,202.20 L387.75,202.40 L388.38,202.60 L389.02,202.80 L389.65,202.99 L390.28,203.17 L390.92,203.36 L391.55,203.49 L392.18,203.62 L392.81,203.75 L393.45,203.87 L394.08,204.00 L394.71,204.12 L395.34,204.24 L395.98,204.35 L396.61,204.47 L397.24,204.59 L397.88,204.71 L398.51,204.83 L399.14,204.93 L399.77,205.03 L400.41,205.13 L401.04,205.24 L401.67,205.35 L402.31,205.46 L402.94,205.67 L403.57,205.87 L404.20,206.08 L404.84,206.29 L405.47,206.49 L406.10,206.70 L406.74,206.79 L407.37,206.88 L408.00,206.97 L408.63,207.05 L409.27,207.12 L409.90,207.18 L410.53,207.25 L411.16,207.32 L411.80,207.37 L412.43,207.42 L413.06,207.45 L413.70,207.48 L414.33,207.55 L414.96,207.62 L415.59,207.69 L416.23,207.75 L416.86,207.82 L417.49,207.89 L418.13,207.88 L418.76,207.89 L419.39,207.90 L420.02,207.93 L420.66,207.98 L421.29,208.05 L421.92,208.21 L422.56,208.38 L423.19,208.58 L423.82,208.79 L424.45,209.01 L425.09,209.24 L425.72,209.48 L426.35,209.73 L426.98,209.98 L427.62,210.23 L428.25,210.49 L428.88,210.75 L429.52,210.98 L430.15,211.22 L430.78,211.45 L431.41,211.67 L432.05,211.90 L432.68,212.11 L433.31,212.35 L433.95,212.58 L434.58,212.80 L435.21,213.00 L435.84,213.19 L436.48,213.37 L437.11,213.49 L437.74,213.61 L438.38,213.74 L439.01,213.86 L439.64,213.99 L440.27,214.14 L440.91,214.26 L441.54,214.39 L442.17,214.54 L442.80,214.69 L443.44,214.85 L444.07,215.01 L444.70,215.28 L445.34,215.56 L445.97,215.84 L446.60,216.13 L447.23,216.42 L447.87,216.71 L448.50,216.90 L449.13,217.10 L449.76,217.30 L450.38,217.51 L451.01,217.72 L451.64,217.95 L452.27,218.27 L452.90,218.59 L453.52,218.92 L454.15,219.24 L454.78,219.57 L455.41,219.90 L456.04,220.16 L456.66,220.41 L457.29,220.66 L457.92,220.89 L458.55,221.11 L459.18,221.32 L459.80,221.55 L460.43,221.78 L461.06,221.99 L461.69,222.20 L462.32,222.40 L462.94,222.60 L463.57,222.81 L464.20,223.02 L464.83,223.22 L465.46,223.43 L466.08,223.62 L466.71,223.82 L467.34,223.93 L467.97,224.05 L468.60,224.15 L469.22,224.26 L469.85,224.36 L470.48,224.46 L471.11,224.57 L471.74,224.68 L472.36,224.79 L472.99,224.89 L473.62,224.99 L474.25,225.09 L474.88,225.22 L475.50,225.35 L476.13,225.48 L476.76,225.60 L477.39,225.73 L478.02,225.84 L478.64,225.94 L479.27,226.03 L479.90,226.11 L480.53,226.19 L481.16,226.27 L481.78,226.35 L482.41,226.39 L483.04,226.43 L483.67,226.47 L484.30,226.50 L484.92,226.54 L485.55,226.58 L486.18,226.67 L486.81,226.75 L487.44,226.85 L488.06,226.94 L488.69,227.03 L489.32,227.13 L489.95,227.23 L490.58,227.33 L491.20,227.44 L491.83,227.55 L492.46,227.67 L493.09,227.80 L493.72,227.89 L494.34,227.99 L494.97,228.10 L495.60,228.21 L496.23,228.33 L496.86,228.45 L497.48,228.57 L498.11,228.69 L498.74,228.80 L499.37,228.92 L500.00,229.03 L500.62,229.14 L501.25,229.29 L501.88,229.43 L502.51,229.57 L503.14,229.69 L503.76,229.80 L504.39,229.90 L505.02,229.94 L505.65,229.96 L506.28,229.98 L506.90,229.99 L507.53,229.99 L508.16,229.99 L508.79,230.01 L509.42,230.02 L510.04,230.02 L510.67,230.03 L511.30,230.04 L511.93,230.04 L512.56,230.08 L513.18,230.13 L513.81,230.17 L514.44,230.22 L515.07,230.27 L515.70,230.31 L516.32,230.36 L516.95,230.40 L517.58,230.45 L518.21,230.51 L518.84,230.57 L519.46,230.63 L520.09,230.69 L520.72,230.75 L521.35,230.83 L521.98,230.91 L522.60,231.01 L523.23,231.12 L523.86,231.20 L524.49,231.29 L525.12,231.37 L525.74,231.45 L526.37,231.52 L527.00,231.57" stroke="#0000ff" stroke-width="1.3" fill="none" stroke-linejoin="round" stroke-linecap="round" />
</g>
<path d="M92.11,399.00 L92.58,399.00 L93.05,399.00 L93.52,374.86 L94.00,369.69 L94.47,369.12 L94.94,368.71 L95.41,368.27 L95.88,368.15 L96.35,368.07 L96.82,367.92 L97.29,367.73 L97.76,367.46 L98.23,367.10 L98.70,366.76 L99.17,366.41 L99.64,366.04 L100.11,365.66 L100.58,365.27 L101.05,365.01 L101.52,364.73 L101.99,364.44 L102.46,363.97 L102.93,363.48 L103.40,362.97 L103.87,362.51 L104.34,362.03 L104.81,361.52 L105.28,360.84 L105.76,360.12 L106.23,359.35 L106.70,358.78 L107.17,358.18 L107.64,357.56 L108.11,356.79 L108.58,356.02 L109.05,355.24 L109.52,354.34 L109.99,353.44 L110.46,352.46 L110.93,351.50 L111.40,350.43 L111.87,349.32 L112.34,348.09 L112.81,346.89 L113.28,345.78 L113.75,344.82 L114.22,344.04 L114.69,343.47 L115.16,343.07 L115.63,342.96 L116.10,343.04 L116.57,343.41 L117.04,343.88 L117.52,344.42 L117.99,344.86 L118.46,345.29 L118.93,345.78 L119.40,346.52 L119.87,347.35 L120.34,348.22 L120.81,348.89 L121.28,349.55 L121.75,350.20 L122.22,350.74 L122.69,351.29 L123.16,351.91 L123.63,352.83 L124.10,353.76 L124.57,354.67 L125.04,355.42 L125.51,356.11 L125.98,356.71 L126.45,357.22 L126.92,357.58 L127.39,357.77 L127.86,357.68 L128.33,357.58 L128.80,357.48 L129.28,357.50 L129.75,357.53 L130.22,357.55 L130.69,357.62 L131.16,357.70 L131.64,357.77 L132.11,357.56 L132.59,357.14 L133.07,356.55 L133.54,355.96 L134.02,355.26 L134.50,354.50 L134.97,353.66 L135.45,352.83 L135.93,352.04 L136.41,351.42 L136.88,350.92 L137.36,350.53 L137.84,349.98 L138.31,349.46 L138.79,348.96 L139.27,348.67 L139.75,348.37 L140.22,348.06 L140.70,347.64 L141.18,347.18 L141.65,346.72 L142.13,346.29 L142.61,345.93 L143.08,345.70 L143.56,345.59 L144.04,345.65 L144.51,345.82 L144.99,346.04 L145.47,346.32 L145.95,346.64 L146.42,347.08 L146.90,347.49 L147.38,347.86 L147.85,348.12 L148.33,348.42 L148.81,348.72 L149.28,349.11 L149.76,349.44 L150.24,349.69 L150.72,349.76 L151.19,349.72 L151.67,349.63 L152.15,349.59 L152.62,349.51 L153.10,349.42 L153.58,349.32 L154.06,349.21 L154.53,349.09 L155.01,348.97 L155.49,348.73 L155.96,348.41 L156.44,347.81 L156.92,347.18 L157.39,346.54 L157.87,346.00 L158.35,345.50 L158.82,345.07 L159.30,344.78 L159.78,344.52 L160.26,344.28 L160.73,344.00 L161.21,343.74 L161.69,343.50 L162.16,343.36 L162.64,343.24 L163.12,343.13 L163.59,342.98 L164.07,342.83 L164.55,342.69 L165.03,342.59 L165.50,342.50 L165.98,342.42 L166.46,342.19 L166.93,341.96 L167.41,341.74 L167.89,341.71 L168.37,341.69 L168.84,341.67 L169.32,341.63 L169.80,341.59 L170.27,341.56 L170.75,341.54 L171.23,341.52 L171.70,341.50 L172.18,341.38 L172.66,341.25 L173.13,341.13 L173.61,340.98 L174.09,340.84 L174.57,340.69 L175.04,340.67 L175.52,340.65 L176.00,340.63 L176.47,340.61 L176.95,340.59 L177.43,340.58 L177.91,340.39 L178.38,340.20 L178.86,340.02 L179.34,339.97 L179.81,339.92 L180.29,339.89 L180.77,339.90 L181.24,339.98 L181.72,340.23 L182.20,340.58 L182.68,340.94 L183.15,341.22 L183.63,341.31 L184.11,341.29 L184.58,341.27 L185.06,341.31 L185.54,341.34 L186.01,341.37 L186.49,341.36 L186.97,341.35 L187.44,341.29 L187.92,340.85 L188.40,340.18 L188.88,339.74 L189.35,339.57 L189.83,339.45 L190.31,339.33 L190.78,339.40 L191.26,339.46 L191.74,339.53 L192.22,339.44 L192.69,339.34 L193.17,339.24 L193.65,339.46 L194.12,339.68 L194.60,339.90 L195.08,339.75 L195.55,339.60 L196.03,339.46 L196.51,339.44 L196.99,339.43 L197.46,339.41 L197.94,339.48 L198.42,339.55 L198.89,339.63 L199.37,339.58 L199.85,339.54 L200.32,339.52 L200.80,339.64 L201.28,339.84 L201.75,340.09 L202.23,340.40 L202.71,340.71 L203.19,340.99 L203.66,341.27 L204.14,341.46 L204.62,341.53 L205.09,341.31 L205.57,340.91 L206.05,340.40 L206.53,339.81 L207.00,339.26 L207.48,338.81 L207.96,338.60 L208.43,338.57 L208.91,338.57 L209.39,338.65 L209.86,338.75 L210.34,338.85 L210.82,338.91 L211.29,338.97 L211.77,339.03 L212.24,339.10 L212.72,339.18 L213.19,339.26 L213.67,339.32 L214.14,339.37 L214.62,339.45 L215.09,339.84 L215.57,340.36 L216.04,340.92 L216.52,341.33 L216.99,341.60 L217.47,341.67 L217.94,341.55 L218.42,341.40 L218.90,341.22 L219.37,341.18 L219.85,341.15 L220.32,341.14 L220.80,341.07 L221.27,341.05 L221.75,341.04 L222.22,341.03 L222.70,341.04 L223.17,341.06 L223.65,341.10 L224.12,341.15 L224.60,341.21 L225.07,341.38 L225.55,341.55 L226.02,341.77 L226.50,341.90 L226.97,342.08 L227.45,342.30 L227.92,342.76 L228.40,343.21 L228.87,343.61 L229.35,343.68 L229.82,343.65 L230.30,343.51 L230.78,343.55 L231.25,343.54 L231.73,343.50 L232.20,343.32 L232.68,343.17 L233.15,343.05 L233.63,342.91 L234.10,342.81 L234.58,342.71 L235.05,342.76 L235.53,342.82 L236.00,342.88 L236.48,342.90 L236.95,342.92 L237.43,342.94 L237.90,342.92 L238.38,342.90 L238.85,342.88 L239.33,342.88 L239.80,343.06 L240.28,343.35 L240.75,343.80 L241.23,344.24 L241.70,344.62 L242.18,344.89 L242.66,345.17 L243.13,345.46 L243.61,345.67 L244.08,345.86 L244.56,345.99 L245.03,346.22 L245.51,346.36 L245.98,346.39 L246.46,346.21 L246.93,345.99 L247.41,345.77 L247.88,345.63 L248.36,345.61 L248.83,345.63 L249.31,345.58 L249.78,345.55 L250.26,345.52 L250.73,345.59 L251.21,345.66 L251.68,345.74 L252.16,345.79 L252.63,345.84 L253.11,345.90 L253.58,346.05 L254.06,346.21 L254.54,346.36 L255.01,346.46 L255.49,346.56 L255.96,346.65 L256.44,346.69 L256.91,346.74 L257.39,346.78 L257.86,346.95 L258.34,347.12 L258.81,347.30 L259.29,347.34 L259.76,347.39 L260.24,347.45 L260.71,347.60 L261.19,347.75 L261.66,347.90 L262.14,348.12 L262.61,348.33 L263.09,348.54 L263.56,348.62 L264.04,348.69 L264.51,348.75 L264.99,348.84 L265.46,348.93 L265.94,349.02 L266.42,349.00 L266.89,348.98 L267.37,348.95 L267.84,348.97 L268.32,348.99 L268.79,349.01 L269.27,349.22 L269.74,349.44 L270.22,349.65 L270.69,349.72 L271.17,349.79 L271.64,349.87 L272.12,350.10 L272.59,350.34 L273.07,350.61 L273.54,350.62 L274.02,350.65 L274.49,350.67 L274.97,350.84 L275.44,351.00 L275.92,351.15 L276.39,351.32 L276.87,351.47 L277.34,351.59 L277.82,351.53 L278.30,351.46 L278.77,351.39 L279.25,351.54 L279.72,351.69 L280.20,351.84 L280.67,351.79 L281.15,351.73 L281.62,351.67 L282.10,351.67 L282.57,351.66 L283.05,351.66 L283.52,351.76 L284.00,351.86 L284.47,351.96 L284.95,351.87 L285.42,351.79 L285.90,351.71 L286.37,351.74 L286.85,351.78 L287.32,351.82 L287.80,352.02 L288.27,352.22 L288.75,352.42 L289.22,352.50 L289.70,352.58 L290.18,352.67 L290.66,352.65 L291.13,352.63 L291.61,352.62 L292.09,352.75 L292.57,352.89 L293.05,353.03 L293.53,353.21 L294.00,353.38 L294.48,353.57 L294.96,353.63 L295.44,353.70 L295.92,353.79 L296.39,353.94 L296.87,354.11 L297.35,354.28 L297.83,354.47 L298.31,354.65 L298.79,354.86 L299.26,355.03 L299.74,355.22 L300.22,355.39 L300.70,355.60 L301.18,355.77 L301.65,355.87 L302.13,355.79 L302.61,355.72 L303.09,355.64 L303.57,355.66 L304.05,355.69 L304.52,355.71 L305.00,355.75 L305.48,355.78 L305.96,355.82 L306.44,355.80 L306.92,355.81 L307.39,355.89 L307.87,356.01 L308.35,356.18 L308.83,356.36 L309.31,356.59 L309.78,356.82 L310.26,357.02 L310.74,357.26 L311.22,357.46 L311.70,357.67 L312.18,357.65 L312.65,357.63 L313.13,357.59 L313.61,357.70 L314.09,357.78 L314.57,357.84 L315.04,357.73 L315.52,357.58 L316.00,357.40 L316.48,357.36 L316.96,357.32 L317.44,357.28 L317.91,357.14 L318.39,357.03 L318.87,356.95 L319.35,356.97 L319.83,357.14 L320.30,357.45 L320.78,357.75 L321.26,358.06 L321.74,358.31 L322.22,358.63 L322.70,358.92 L323.17,359.20 L323.65,359.41 L324.13,359.62 L324.61,359.81 L325.09,359.95 L325.56,360.08 L326.04,360.23 L326.52,360.47 L327.00,360.70 L327.48,360.93 L327.96,361.08 L328.43,361.19 L328.91,361.28 L329.39,361.37 L329.87,361.41 L330.35,361.41 L330.83,361.37 L331.30,361.31 L331.78,361.26 L332.26,361.12 L332.74,360.99 L333.22,360.86 L333.69,360.96 L334.17,361.08 L334.65,361.22 L335.13,361.22 L335.61,361.25 L336.09,361.29 L336.56,361.37 L337.04,361.47 L337.52,361.58 L338.00,361.63 L338.48,361.68 L338.95,361.73 L339.43,361.92 L339.91,362.12 L340.39,362.32 L340.87,362.41 L341.35,362.51 L341.82,362.61 L342.30,362.70 L342.78,362.79 L343.26,362.87 L343.74,362.96 L344.21,363.04 L344.69,363.10 L345.17,363.23 L345.65,363.36 L346.13,363.48 L346.61,363.60 L347.08,363.71 L347.56,363.83 L348.04,363.94 L348.52,364.06 L349.00,364.18 L349.47,364.22 L349.95,364.26 L350.43,364.30 L350.91,364.37 L351.39,364.45 L351.87,364.52 L352.34,364.72 L352.82,364.93 L353.30,365.14 L353.78,365.32 L354.26,365.50 L354.74,365.70 L355.21,365.92 L355.69,366.25 L356.17,366.65 L356.65,367.14 L357.13,367.61 L357.60,367.98 L358.08,368.10 L358.56,368.08 L359.04,368.04 L359.52,368.04 L360.00,368.04 L360.47,368.03 L360.95,368.00 L361.43,367.97 L361.91,367.94 L362.39,367.96 L362.86,367.98 L363.34,368.00 L363.82,368.06 L364.30,368.13 L364.78,368.19 L365.26,368.06 L365.73,367.93 L366.21,367.88 L366.69,368.18 L367.17,368.63 L367.65,369.09 L368.12,369.58 L368.60,370.06 L369.08,370.57 L369.56,370.94 L370.03,371.30 L370.51,371.62 L370.98,371.93 L371.46,372.16 L371.93,372.30 L372.41,372.30 L372.88,372.27 L373.35,372.24 L373.83,372.36 L374.30,372.49 L374.78,372.61 L375.25,372.44 L375.73,372.28 L376.20,372.11 L376.68,372.22 L377.15,372.33 L377.63,372.44 L378.10,372.35 L378.58,372.26 L379.05,372.16 L379.52,372.23 L380.00,372.29 L380.47,372.36 L380.95,372.38 L381.42,372.41 L381.90,372.43 L382.37,372.42 L382.85,372.41 L383.32,372.39 L383.80,372.34 L384.27,372.28 L384.75,372.22 L385.22,372.32 L385.69,372.41 L386.17,372.51 L386.64,372.48 L387.12,372.46 L387.59,372.43 L388.07,372.44 L388.54,372.44 L389.02,372.45 L389.49,372.51 L389.97,372.58 L390.44,372.65 L390.92,372.48 L391.60,401.60 L392.40,401.60 L392.60,400.50 L409.50,400.50 L410.30,398.90 L418.30,398.90 L419.10,397.30 L428.00,397.30 L428.80,395.60 L437.30,395.60 L438.10,394.10 L446.50,394.10 L447.30,392.40 L456.40,392.40 L457.20,390.50 L466.20,390.50 L467.00,388.80 L476.80,388.80 L477.60,386.90 L487.50,386.90 L488.30,385.50 L498.10,385.50 L499.00,384.10 L527.00,384.10" stroke="#ff0000" stroke-width="1.25" fill="none" stroke-linejoin="round" stroke-linecap="round" />
<path d="M52.60,399.00 L53.07,399.00 L53.54,399.00 L54.01,399.00 L54.48,399.00 L54.95,399.00 L55.42,399.00 L55.89,399.00 L56.36,399.00 L56.83,399.00 L57.30,399.00 L57.77,399.00 L58.24,399.00 L58.72,399.00 L59.19,399.00 L59.66,399.00 L60.13,399.00 L60.60,399.00 L61.07,399.00 L61.54,399.00 L62.01,399.00 L62.48,399.00 L62.95,399.00 L63.42,399.00 L63.89,399.00 L64.36,399.00 L64.83,399.00 L65.30,399.00 L65.77,399.00 L66.24,399.00 L66.71,399.00 L67.18,399.00 L67.65,399.00 L68.12,399.00 L68.59,399.00 L69.06,399.00 L69.53,399.00 L70.00,399.00 L70.48,399.00 L70.95,399.00 L71.42,399.00 L71.89,399.00 L72.36,399.00 L72.83,399.00 L73.30,399.00 L73.77,399.00 L74.24,399.00 L74.71,399.00 L75.18,399.00 L75.65,399.00 L76.12,399.00 L76.59,399.00 L77.06,399.00 L77.53,399.00 L78.00,399.00 L78.47,399.00 L78.94,399.00 L79.41,399.00 L79.88,399.00 L80.35,399.00 L80.82,399.00 L81.29,399.00 L81.76,399.00 L82.24,399.00 L82.71,399.00 L83.18,399.00 L83.65,399.00 L84.12,399.00 L84.59,399.00 L85.06,399.00 L85.53,399.00 L86.00,399.00 L86.47,399.00 L86.94,399.00 L87.41,399.00 L87.88,399.00 L88.35,399.00 L88.82,399.00 L89.29,399.00 L89.76,399.00 L90.23,399.00 L90.70,399.00 L91.17,399.00 L91.64,399.00 L92.11,399.00 L92.58,399.00 L93.05,399.00 L93.52,399.00 L94.00,399.00 L94.47,399.00 L94.94,399.00 L95.41,399.00 L95.88,399.00 L96.35,399.00 L96.82,399.00 L97.29,399.00 L97.76,399.00 L98.23,399.00 L98.70,399.00 L99.17,399.00 L99.64,399.00 L100.11,399.00 L100.58,399.00 L101.05,399.00 L101.52,399.00 L101.99,399.00 L102.46,399.00 L102.93,399.00 L103.40,399.00 L103.87,399.00 L104.34,399.00 L104.81,398.95 L105.28,398.68 L105.76,398.22 L106.23,397.83 L106.70,396.98 L107.17,396.04 L107.64,395.03 L108.11,394.06 L108.58,393.09 L109.05,392.15 L109.52,391.30 L109.99,390.55 L110.46,389.87 L110.93,389.21 L111.40,388.57 L111.87,387.93 L112.34,387.36 L112.81,386.78 L113.28,386.19 L113.75,385.35 L114.22,384.48 L114.69,383.59 L115.16,382.93 L115.63,382.23 L116.10,381.50 L116.57,380.65 L117.04,379.76 L117.52,378.85 L117.99,377.86 L118.46,376.86 L118.93,375.83 L119.40,374.99 L119.87,374.15 L120.34,373.29 L120.81,372.16 L121.28,371.01 L121.75,369.86 L122.22,368.83 L122.69,367.77 L123.16,366.67 L123.63,365.51 L124.10,364.32 L124.57,363.12 L125.04,361.91 L125.51,360.72 L125.98,359.55 L126.45,358.54 L126.92,357.58 L127.39,356.70 L127.86,355.93 L128.33,355.11 L128.80,354.26 L129.28,353.22 L129.75,352.25 L130.22,351.39 L130.69,350.75 L131.16,350.32 L131.64,350.15 L132.11,350.25 L132.59,350.52 L133.07,350.95 L133.54,351.57 L134.02,352.28 L134.50,353.06 L134.97,353.81 L135.45,354.57 L135.93,355.31 L136.41,355.86 L136.88,356.34 L137.36,356.75 L137.84,357.33 L138.31,357.95 L138.79,358.59 L139.27,359.23 L139.75,359.85 L140.22,360.43 L140.70,361.03 L141.18,361.54 L141.65,361.96 L142.13,361.98 L142.61,361.86 L143.08,361.55 L143.56,361.49 L144.04,361.30 L144.51,361.02 L144.99,360.34 L145.47,359.69 L145.95,359.08 L146.42,358.44 L146.90,357.79 L147.38,357.11 L147.85,356.68 L148.33,356.24 L148.81,355.79 L149.28,355.19 L149.76,354.49 L150.24,353.70 L150.72,352.96 L151.19,352.22 L151.67,351.53 L152.15,350.71 L152.62,350.03 L153.10,349.54 L153.58,349.55 L154.06,349.70 L154.53,349.84 L155.01,349.76 L155.49,349.67 L155.96,349.59 L156.44,349.60 L156.92,349.66 L157.39,349.84 L157.87,350.16 L158.35,350.54 L158.82,350.98 L159.30,351.27 L159.78,351.58 L160.26,351.87 L160.73,352.37 L161.21,352.82 L161.69,353.20 L162.16,353.33 L162.64,353.35 L163.12,353.31 L163.59,353.27 L164.07,353.23 L164.55,353.20 L165.03,353.22 L165.50,353.24 L165.98,353.26 L166.46,353.21 L166.93,352.95 L167.41,352.36 L167.89,351.60 L168.37,350.79 L168.84,350.08 L169.32,349.69 L169.80,349.36 L170.27,349.03 L170.75,348.65 L171.23,348.29 L171.70,347.94 L172.18,347.59 L172.66,347.28 L173.13,347.00 L173.61,346.75 L174.09,346.55 L174.57,346.39 L175.04,346.23 L175.52,346.14 L176.00,346.10 L176.47,346.24 L176.95,346.43 L177.43,346.65 L177.91,346.80 L178.38,346.98 L178.86,347.16 L179.34,347.46 L179.81,347.92 L180.29,348.47 L180.77,349.03 L181.24,349.49 L181.72,349.75 L182.20,349.68 L182.68,349.58 L183.15,349.49 L183.63,349.59 L184.11,349.70 L184.58,349.80 L185.06,349.75 L185.54,349.69 L186.01,349.63 L186.49,349.55 L186.97,349.47 L187.44,349.39 L187.92,349.53 L188.40,349.67 L188.88,349.81 L189.35,349.75 L189.83,349.70 L190.31,349.64 L190.78,349.72 L191.26,349.69 L191.74,349.30 L192.22,348.71 L192.69,348.40 L193.17,348.35 L193.65,348.40 L194.12,348.45 L194.60,348.51 L195.08,348.45 L195.55,348.38 L196.03,348.32 L196.51,348.33 L196.99,348.34 L197.46,348.35 L197.94,348.31 L198.42,348.28 L198.89,348.24 L199.37,348.18 L199.85,348.31 L200.32,348.61 L200.80,349.11 L201.28,349.56 L201.75,349.84 L202.23,349.80 L202.71,349.60 L203.19,349.29 L203.66,349.01 L204.14,348.74 L204.62,348.54 L205.09,348.36 L205.57,348.18 L206.05,348.01 L206.53,347.90 L207.00,347.84 L207.48,347.85 L207.96,347.90 L208.43,347.96 L208.91,348.01 L209.39,347.91 L209.86,347.81 L210.34,347.70 L210.82,347.62 L211.29,347.53 L211.77,347.45 L212.24,347.51 L212.72,347.57 L213.19,347.64 L213.67,347.69 L214.14,347.97 L214.62,348.52 L215.09,348.87 L215.57,348.98 L216.04,348.98 L216.52,349.20 L216.99,349.40 L217.47,349.59 L217.94,349.66 L218.42,349.70 L218.90,349.73 L219.37,349.71 L219.85,349.51 L220.32,349.21 L220.80,348.84 L221.27,348.55 L221.75,348.42 L222.22,348.38 L222.70,348.35 L223.17,348.31 L223.65,348.19 L224.12,348.08 L224.60,347.97 L225.07,348.10 L225.55,348.23 L226.02,348.37 L226.50,348.43 L226.97,348.50 L227.45,348.56 L227.92,348.56 L228.40,348.57 L228.87,348.57 L229.35,348.57 L229.82,348.58 L230.30,348.61 L230.78,348.79 L231.25,349.01 L231.73,349.22 L232.20,349.22 L232.68,349.16 L233.15,349.00 L233.63,348.82 L234.10,348.59 L234.58,348.36 L235.05,348.23 L235.53,348.19 L236.00,348.21 L236.48,348.19 L236.95,348.18 L237.43,348.16 L237.90,348.27 L238.38,348.37 L238.85,348.47 L239.33,348.50 L239.80,348.52 L240.28,348.54 L240.75,348.38 L241.23,348.21 L241.70,348.05 L242.18,348.06 L242.66,348.07 L243.13,348.08 L243.61,348.23 L244.08,348.37 L244.56,348.52 L245.03,348.42 L245.51,348.32 L245.98,348.23 L246.46,348.24 L246.93,348.32 L247.41,348.51 L247.88,348.73 L248.36,348.98 L248.83,349.21 L249.31,349.44 L249.78,349.57 L250.26,349.55 L250.73,349.35 L251.21,349.05 L251.68,348.74 L252.16,348.42 L252.63,348.27 L253.11,348.23 L253.58,348.23 L254.06,348.23 L254.54,348.24 L255.01,348.25 L255.49,348.26 L255.96,348.27 L256.44,348.37 L256.91,348.47 L257.39,348.57 L257.86,348.63 L258.34,348.69 L258.81,348.75 L259.29,348.63 L259.76,348.51 L260.24,348.39 L260.71,348.44 L261.19,348.48 L261.66,348.53 L262.14,348.48 L262.61,348.61 L263.09,348.85 L263.56,349.17 L264.04,349.43 L264.51,349.51 L264.99,349.54 L265.46,349.56 L265.94,349.59 L266.42,349.62 L266.89,349.66 L267.37,349.69 L267.84,349.67 L268.32,349.66 L268.79,349.87 L269.27,350.22 L269.74,350.62 L270.22,350.97 L270.69,351.31 L271.17,351.40 L271.64,351.39 L272.12,351.11 L272.59,350.78 L273.07,350.42 L273.54,350.15 L274.02,349.91 L274.49,349.71 L274.97,349.59 L275.44,349.56 L275.92,349.63 L276.39,349.69 L276.87,349.80 L277.34,349.95 L277.82,350.31 L278.30,350.69 L278.77,351.05 L279.25,351.18 L279.72,351.26 L280.20,351.29 L280.67,351.50 L281.15,351.70 L281.62,351.89 L282.10,351.96 L282.57,352.03 L283.05,352.10 L283.52,352.19 L284.00,352.27 L284.47,352.35 L284.95,352.33 L285.42,352.31 L285.90,352.29 L286.37,352.42 L286.85,352.55 L287.32,352.69 L287.80,352.69 L288.27,352.69 L288.75,352.69 L289.22,352.81 L289.70,352.92 L290.18,353.04 L290.66,352.96 L291.13,352.89 L291.61,352.81 L292.09,352.82 L292.57,352.83 L293.05,352.84 L293.53,352.98 L294.00,353.13 L294.48,353.29 L294.96,353.29 L295.44,353.29 L295.92,353.30 L296.39,353.45 L296.87,353.60 L297.35,353.74 L297.83,353.74 L298.31,353.73 L298.79,353.72 L299.26,353.90 L299.74,354.07 L300.22,354.23 L300.70,354.36 L301.18,354.47 L301.65,354.58 L302.13,354.43 L302.61,354.28 L303.09,354.12 L303.57,354.22 L304.05,354.32 L304.52,354.42 L305.00,354.48 L305.48,354.53 L305.96,354.59 L306.44,354.58 L306.92,354.57 L307.39,354.56 L307.87,354.63 L308.35,354.70 L308.83,354.77 L309.31,354.71 L309.78,354.66 L310.26,354.65 L310.74,354.89 L311.22,355.23 L311.70,355.62 L312.18,355.83 L312.65,356.01 L313.13,356.11 L313.61,356.28 L314.09,356.37 L314.57,356.45 L315.04,356.60 L315.52,356.75 L316.00,356.89 L316.48,356.90 L316.96,356.91 L317.44,356.93 L317.91,356.92 L318.39,356.93 L318.87,357.06 L319.35,357.42 L319.83,357.81 L320.30,358.19 L320.78,358.30 L321.26,358.31 L321.74,358.28 L322.22,358.35 L322.70,358.40 L323.17,358.44 L323.65,358.53 L324.13,358.61 L324.61,358.70 L325.09,358.74 L325.56,358.80 L326.04,358.88 L326.52,358.93 L327.00,358.99 L327.48,359.05 L327.96,359.11 L328.43,359.16 L328.91,359.19 L329.39,359.24 L329.87,359.25 L330.35,359.25 L330.83,359.33 L331.30,359.41 L331.78,359.49 L332.26,359.45 L332.74,359.40 L333.22,359.36 L333.69,359.44 L334.17,359.53 L334.65,359.62 L335.13,359.55 L335.61,359.49 L336.09,359.43 L336.56,359.50 L337.04,359.58 L337.52,359.65 L338.00,359.61 L338.48,359.66 L338.95,359.78 L339.43,360.15 L339.91,360.54 L340.39,360.94 L340.87,361.20 L341.35,361.42 L341.82,361.57 L342.30,361.66 L342.78,361.74 L343.26,361.82 L343.74,361.92 L344.21,362.02 L344.69,362.10 L345.17,362.31 L345.65,362.50 L346.13,362.68 L346.61,362.67 L347.08,362.65 L347.56,362.60 L348.04,362.56 L348.52,362.52 L349.00,362.49 L349.47,362.48 L349.95,362.48 L350.43,362.47 L350.91,362.53 L351.39,362.59 L351.87,362.65 L352.34,362.60 L352.82,362.55 L353.30,362.49 L353.78,362.51 L354.26,362.53 L354.74,362.55 L355.21,362.50 L355.69,362.59 L356.17,362.79 L356.65,363.19 L357.13,363.61 L357.60,364.00 L358.08,364.37 L358.56,364.66 L359.04,364.94 L359.52,365.16 L360.00,365.37 L360.47,365.57 L360.95,365.59 L361.43,365.60 L361.91,365.58 L362.39,365.61 L362.86,365.62 L363.34,365.60 L363.82,365.66 L364.30,365.71 L364.78,365.77 L365.26,365.73 L365.73,365.69 L366.21,365.65 L366.69,365.73 L367.17,365.80 L367.65,365.88 L368.12,365.94 L368.60,366.18 L369.08,366.59 L369.56,366.92 L370.03,367.27 L370.51,367.55 L370.98,367.85 L371.46,367.94 L371.93,367.97 L372.41,367.94 L372.88,367.91 L373.35,367.88 L373.83,367.99 L374.30,368.10 L374.78,368.22 L375.25,368.13 L375.73,368.06 L376.20,368.13 L376.68,368.48 L377.15,368.93 L377.63,369.44 L378.10,369.84 L378.58,370.22 L379.05,370.52 L379.52,370.85 L380.00,371.02 L380.47,371.10 L380.95,371.10 L381.42,371.10 L381.90,371.10 L382.37,371.10 L382.85,371.10 L383.32,371.10 L383.80,371.00 L384.27,370.90 L384.75,370.80 L385.22,370.86 L385.69,370.93 L386.17,371.00 L386.64,371.04 L387.12,371.09 L387.59,371.13 L388.07,371.14 L388.54,371.21 L389.02,371.49 L389.49,371.88 L389.97,372.33 L390.44,372.75 L390.92,372.94 L391.39,373.06 L391.86,373.19 L392.34,373.62 L392.81,374.02 L393.29,374.38 L393.76,374.45 L394.24,374.44 L394.71,374.30 L395.19,373.97 L395.66,373.50 L396.14,372.93 L396.61,372.33 L397.08,371.66 L397.56,370.95 L398.03,370.35 L398.51,369.77 L398.98,369.24 L399.46,368.66 L399.93,368.16 L400.41,367.66 L400.88,367.21 L401.36,366.75 L401.83,366.30 L402.31,365.83 L402.78,365.37 L403.25,364.91 L403.73,364.53 L404.20,364.17 L404.68,363.81 L405.15,363.34 L405.63,362.88 L406.10,362.45 L406.58,362.20 L407.05,361.99 L407.53,361.81 L408.00,361.50 L408.48,361.23 L408.95,360.98 L409.42,360.96 L409.90,360.93 L410.37,360.92 L410.85,360.65 L411.32,360.40 L411.80,360.16 L412.27,360.15 L412.75,360.17 L413.22,360.19 L413.70,360.12 L414.17,360.07 L414.65,360.04 L415.12,359.89 L415.59,359.76 L416.07,359.63 L416.54,359.69 L417.02,359.75 L417.49,359.81 L417.97,359.73 L418.44,359.65 L418.92,359.57 L419.39,359.65 L419.87,359.72 L420.34,359.80 L420.81,359.64 L421.29,359.48 L421.76,359.32 L422.24,359.39 L422.71,359.46 L423.19,359.52 L423.66,359.55 L424.14,359.51 L424.61,359.35 L425.09,358.99 L425.56,358.62 L426.04,358.29 L426.51,358.09 L426.98,358.01 L427.46,357.98 L427.93,358.08 L428.41,358.19 L428.88,358.31 L429.36,358.26 L429.83,358.23 L430.31,358.20 L430.78,358.17 L431.26,358.14 L431.73,358.20 L432.21,358.54 L432.68,358.92 L433.15,359.27 L433.63,359.53 L434.10,359.76 L434.58,359.98 L435.05,360.17 L435.53,360.36 L436.00,360.54 L436.48,360.62 L436.95,360.71 L437.43,360.80 L437.90,361.07 L438.38,361.36 L438.85,361.65 L439.32,361.93 L439.80,362.22 L440.27,362.52 L440.75,362.61 L441.22,362.71 L441.70,362.82 L442.17,363.08 L442.65,363.35 L443.12,363.62 L443.60,363.72 L444.07,363.81 L444.54,363.91 L445.02,364.26 L445.49,364.60 L445.97,364.94 L446.44,365.25 L446.92,365.56 L447.39,365.86 L447.87,366.11 L448.34,366.35 L448.81,366.58 L449.29,366.71 L449.76,366.83 L450.23,366.95 L450.70,367.23 L451.17,367.51 L451.64,367.79 L452.11,367.98 L452.58,368.17 L453.05,368.36 L453.52,368.53 L454.00,368.70 L454.47,368.87 L454.94,369.05 L455.41,369.22 L455.88,369.40 L456.35,369.58 L456.82,369.76 L457.29,369.93 L457.76,370.10 L458.23,370.27 L458.70,370.43 L459.18,370.54 L459.65,370.64 L460.12,370.75 L460.59,370.90 L461.06,371.04 L461.53,371.19 L462.00,371.53 L462.47,371.87 L462.94,372.21 L463.42,372.13 L463.89,372.04 L464.36,371.94 L464.83,372.20 L465.30,372.45 L465.77,372.69 L466.24,372.73 L466.71,372.75 L467.18,372.78 L467.65,372.97 L468.12,373.16 L468.60,373.35 L469.07,373.37 L469.54,373.40 L470.01,373.42 L470.48,373.50 L470.95,373.57 L471.42,373.64 L471.89,373.71 L472.36,373.77 L472.83,373.82 L473.31,373.83 L473.78,373.82 L474.25,373.81 L474.72,373.84 L475.19,373.86 L475.66,373.87 L476.13,373.96 L476.60,374.05 L477.07,374.13 L477.55,374.09 L478.02,374.04 L478.49,373.99 L478.96,373.94 L479.43,373.90 L479.90,373.85 L480.37,373.86 L480.84,373.86 L481.31,373.86 L481.78,373.92 L482.25,373.97 L482.73,374.03 L483.20,374.02 L483.67,374.02 L484.14,374.02 L484.61,373.98 L485.08,373.90 L485.55,373.78 L486.02,373.69 L486.49,373.56 L486.97,373.41 L487.44,373.19 L487.91,372.97 L488.38,372.74 L488.85,372.34 L489.32,371.95 L489.79,371.56 L490.26,371.46 L490.73,371.37 L491.20,371.32 L491.68,371.16 L492.15,371.05 L492.62,370.98 L493.09,371.02 L493.56,371.07 L494.03,371.11 L494.50,371.00 L494.97,370.89 L495.44,370.78 L495.91,370.75 L496.38,370.73 L496.86,370.70 L497.33,370.81 L497.80,370.92 L498.27,371.03 L498.74,370.99 L499.21,370.95 L499.68,370.91 L500.15,370.98 L500.62,371.05 L501.10,371.12 L501.57,370.98 L502.04,370.84 L502.51,370.70 L502.98,370.75 L503.45,370.79 L503.92,370.89 L504.39,371.11 L504.86,371.40 L505.33,371.74 L505.81,371.88 L506.28,372.04 L506.75,372.18 L507.22,372.45 L507.69,372.67 L508.16,372.82 L508.63,372.83 L509.10,372.78 L509.57,372.68 L510.04,372.54 L510.51,372.38 L510.99,372.19 L511.46,372.04 L511.93,371.88 L512.40,371.73 L512.87,371.52 L513.34,371.35 L513.81,371.20 L514.28,371.04 L514.75,370.92 L515.23,370.80 L515.70,370.78 L516.17,370.77 L516.64,370.76 L517.11,370.76 L517.58,370.76 L518.05,370.77 L518.52,370.56 L518.99,370.36 L519.46,370.16 L519.93,370.24 L520.41,370.33 L520.88,370.42 L521.35,370.41 L521.82,370.40 L522.29,370.39 L522.76,370.38 L523.23,370.36 L523.70,370.35 L524.17,370.26 L524.64,370.17 L525.12,370.08 L525.59,370.05 L526.06,370.03 L526.53,370.01 L527.00,370.05" stroke="#0000ff" stroke-width="1.3" fill="none" stroke-linejoin="round" stroke-linecap="round" />
<rect x="52.60" y="14.95" width="474.40" height="107.35" fill="none" stroke="#262626" stroke-width="1.4"/>
<text class="tk" x="46.2" y="115.75" text-anchor="end">0</text>
<text class="tk" x="46.2" y="88.70" text-anchor="end">20</text>
<text class="tk" x="46.2" y="61.40" text-anchor="end">40</text>
<text class="tk" x="46.2" y="34.10" text-anchor="end">60</text>
<text class="tk" x="51.40" y="143.90" text-anchor="middle">0</text>
<text class="tk" x="131.00" y="143.90" text-anchor="middle">500</text>
<text class="tk" x="210.50" y="143.90" text-anchor="middle">1000</text>
<text class="tk" x="289.70" y="143.90" text-anchor="middle">1500</text>
<text class="tk" x="369.40" y="143.90" text-anchor="middle">2000</text>
<text class="tk" x="448.50" y="143.90" text-anchor="middle">2500</text>
<text class="tk" x="527.00" y="143.90" text-anchor="middle">3000</text>
<path d="M131.00,274.10V269.60M131.00,166.40V170.90M210.50,274.10V269.60M210.50,166.40V170.90M289.70,274.10V269.60M289.70,166.40V170.90M369.40,274.10V269.60M369.40,166.40V170.90M448.50,274.10V269.60M448.50,166.40V170.90M52.60,259.00H57.10M527.00,259.00H522.50M52.60,220.60H57.10M527.00,220.60H522.50M52.60,181.40H57.10M527.00,181.40H522.50" stroke="#262626" stroke-width="1.2" fill="none"/>
<rect x="52.60" y="166.40" width="474.40" height="107.70" fill="none" stroke="#262626" stroke-width="1.4"/>
<text class="tk" x="46.2" y="265.30" text-anchor="end">0</text>
<text class="tk" x="46.2" y="226.90" text-anchor="end">5</text>
<text class="tk" x="46.2" y="187.70" text-anchor="end">10</text>
<text class="tk" x="51.40" y="295.70" text-anchor="middle">0</text>
<text class="tk" x="131.00" y="295.70" text-anchor="middle">500</text>
<text class="tk" x="210.50" y="295.70" text-anchor="middle">1000</text>
<text class="tk" x="289.70" y="295.70" text-anchor="middle">1500</text>
<text class="tk" x="369.40" y="295.70" text-anchor="middle">2000</text>
<text class="tk" x="448.50" y="295.70" text-anchor="middle">2500</text>
<text class="tk" x="527.00" y="295.70" text-anchor="middle">3000</text>
<path d="M131.00,425.20V420.70M131.00,317.70V322.20M210.50,425.20V420.70M210.50,317.70V322.20M289.70,425.20V420.70M289.70,317.70V322.20M369.40,425.20V420.70M369.40,317.70V322.20M448.50,425.20V420.70M448.50,317.70V322.20M52.60,399.00H57.10M527.00,399.00H522.50M52.60,372.10H57.10M527.00,372.10H522.50M52.60,344.70H57.10M527.00,344.70H522.50" stroke="#262626" stroke-width="1.2" fill="none"/>
<rect x="52.60" y="317.70" width="474.40" height="107.50" fill="none" stroke="#262626" stroke-width="1.4"/>
<text class="tk" x="46.2" y="431.50" text-anchor="end">-1</text>
<text class="tk" x="46.2" y="405.30" text-anchor="end">0</text>
<text class="tk" x="46.2" y="378.40" text-anchor="end">1</text>
<text class="tk" x="46.2" y="351.00" text-anchor="end">2</text>
<text class="tk" x="46.2" y="324.00" text-anchor="end">3</text>
<text class="tk" x="51.40" y="446.80" text-anchor="middle">0</text>
<text class="tk" x="131.00" y="446.80" text-anchor="middle">500</text>
<text class="tk" x="210.50" y="446.80" text-anchor="middle">1000</text>
<text class="tk" x="289.70" y="446.80" text-anchor="middle">1500</text>
<text class="tk" x="369.40" y="446.80" text-anchor="middle">2000</text>
<text class="tk" x="448.50" y="446.80" text-anchor="middle">2500</text>
<text class="tk" x="527.00" y="446.80" text-anchor="middle">3000</text>
<text class="lb" x="0" y="0" transform="translate(22.30,69.53) rotate(-90)" text-anchor="middle">Position (degree)</text>
<text class="lb" x="0" y="0" transform="translate(22.30,221.15) rotate(-90)" text-anchor="middle">Error (degree)</text>
<text class="lb" x="0" y="0" transform="translate(24.30,372.35) rotate(-90)" text-anchor="middle">Current (A)</text>
<text class="lb" x="291" y="468.4" text-anchor="middle">Time (ms)</text>
<rect x="404.00" y="57.50" width="115.30" height="56.30" fill="#fff" stroke="#262626" stroke-width="1.3"/>
<circle cx="429.85" cy="67.80" r="2.1" fill="#0a960a"/>
<text class="lg" x="455.30" y="73.30">Command</text>
<path d="M408.20,85.80H451.50" stroke="#ff0000" stroke-width="1.5"/>
<text class="lg" x="455.30" y="91.30">SDFC</text>
<path d="M408.20,104.00H451.50" stroke="#0000ff" stroke-width="1.5"/>
<text class="lg" x="455.30" y="109.50">Servo</text>
<rect x="435.90" y="168.60" width="90.70" height="37.80" fill="#fff" stroke="#262626" stroke-width="1.3"/>
<path d="M440.00,178.20H482.60" stroke="#ff0000" stroke-width="1.5"/>
<text class="lg" x="486.40" y="183.70">SDFC</text>
<path d="M440.00,196.90H482.60" stroke="#0000ff" stroke-width="1.5"/>
<text class="lg" x="486.40" y="202.40">Servo</text>
<rect x="436.60" y="317.60" width="90.40" height="38.00" fill="#fff" stroke="#262626" stroke-width="1.3"/>
<path d="M441.20,327.50H483.90" stroke="#ff0000" stroke-width="1.5"/>
<text class="lg" x="487.60" y="333.00">SDFC</text>
<path d="M441.20,346.30H483.90" stroke="#0000ff" stroke-width="1.5"/>
<text class="lg" x="487.60" y="351.80">Servo</text>
</g></svg></body></html>
